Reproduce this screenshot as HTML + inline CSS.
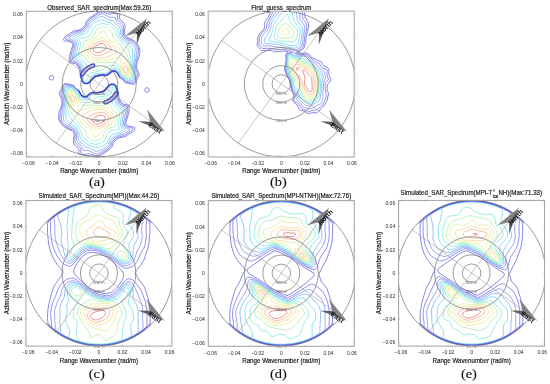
<!DOCTYPE html>
<html><head><meta charset="utf-8"><title>SAR spectra</title>
<style>html,body{margin:0;padding:0;background:#fff;width:550px;height:384px;overflow:hidden}svg{display:block}</style>
</head><body>
<svg width="550" height="384" viewBox="0 0 550 384" font-family="Liberation Sans, Arial, sans-serif">
<clipPath id="clipa"><rect x="26.25" y="11.25" width="146" height="145.7"/></clipPath>
<g clip-path="url(#clipa)">
<g fill="none" stroke-width="0.8" stroke-linejoin="round"><path d="M68.2,83.9 65.7,83.5 63.8,83.9 62.3,85.7 61.4,89.2 59.3,92.5 59.5,94.9 61.6,98.7 62,100.6 61.9,103.5 61.2,106.4 59.2,111.2 58.6,116.4 58.8,119.8 60.4,122.6 63.3,126.1 66.6,128.4 72,130.8 73.4,132.2 74,133.7 74.2,135.6 73.4,140.4 73.6,143.2 74.5,144.9 78.6,148.5 79.1,150.9 78.4,153.8 79.8,154 80.3,154.4 81.8,154.5 82.2,154.9 83.7,154.9 84.2,155.4 86.1,155.4 86.6,155.8 89.5,155.7 94.9,156.4 95.4,156.8 98.4,156.6 101.2,155.2 109.5,149.5 112.1,146.6 113,143.7 113.8,142.1 117.3,138.9 119.7,137.7 125,136.7 129.9,133.4 132.3,132.5 133.5,131.3 134.8,128.9 134.9,127.9 134.7,127.4 133.8,127 129.9,126.4 127.4,125.5 126.5,125 125.7,123.6 125.7,122.7 127.9,116 129.1,110.2 129.2,106.9 128.9,105.5 128,105 123.1,104.1 121.2,102.6 119,98.3 118.3,92.5 116.5,86.8 114.8,84.6 113.3,84 110.9,84.2 109.5,84.9 108,86.1 103.6,90.8 101.2,91.7 96.3,92.6 93.4,92.2 92,92.4 89.6,93.5 86.6,96.1 84.7,96.5 82.7,95.9 81.3,94.9 78.6,90.1 75.2,87.7 74,85.6ZM103.1,11 100.2,11.1 99.1,11.6 89,18.3 86.4,21.2 85.5,24.1 84.7,25.7 80.8,29.2 78.8,30.1 73.5,31.1 68.6,34.4 66.2,35.3 64.7,37 63.5,39.4 63.8,40.4 64.7,40.8 68.6,41.4 71.1,42.3 72,42.8 72.8,44.2 72.8,45.1 70.6,51.8 69.4,57.6 69.3,60.9 69.6,62.3 70.5,62.8 75.4,63.7 77.3,65.2 79.5,69.5 80.2,75.3 82,81 83.2,82.8 84.7,83.6 87.1,83.8 89,82.9 92,80.2 94,77.7 95.6,76.7 97.3,76.1 102.7,75.1 105.1,75.6 106.5,75.4 108.9,74.3 111.9,71.7 113.8,71.3 115.8,71.9 117.2,72.9 119.9,77.7 123.3,80.1 124.9,82.5 130.8,84 134.2,84.1 135.2,83.4 136.2,82.1 137.1,78.6 139.2,75.3 139,72.9 136.9,69.1 136.5,67.2 136.9,62.8 139.4,56.1 139.9,51.4 139.5,47.5 137.2,43.9 134.7,41.3 131.9,39.4 126.5,37 125.1,35.6 124.5,34.1 124.3,32.2 125.1,27.4 124.9,24.6 124,22.9 119.9,19.3 119.4,16.9 120.2,14 118.7,13.8 118.2,13.4 116.7,13.3 116.3,12.9 114.8,12.9 114.3,12.4 103.6,11.4Z" stroke="#6a6ae0"/><path d="M112.9,84.4 110.9,84.5 109.5,85.3 105.1,90.1 103.9,91.1 101.2,92 96.2,93 92.4,92.6 90,93.8 86.6,96.7 85.2,97 83.6,96.8 81.2,95.4 80.4,94.4 78.4,90.5 75,88.1 73.3,85.8 69.1,84.8 66.2,84.5 64.3,84.9 63.3,86.4 62.4,89.6 60.9,92.5 61.1,94.9 62.7,98.7 63,101.1 62.5,105 60.8,110.7 60.7,113.1 59.9,116.4 60,119.8 61.2,122.2 64.2,125.5 67.2,127.5 72.5,129.9 74.2,131.3 74.9,132.7 75.2,134.6 74.8,140.4 75.3,142.8 80.3,147.5 81,149.9 80.7,152.8 82.7,154.2 85.6,154.3 88.6,153.6 92,154.4 95.4,155.9 97.3,155.6 99.2,154.9 108.9,148.5 111.1,145.6 111.7,143.2 112.7,141.3 116.1,138.4 118.7,137 124.5,135.4 128.9,132.4 131.3,131.3 132.7,129.4 132.8,128.4 132.3,128 129.4,127.5 126.5,126.5 125.5,125.8 124.7,124.6 124.6,122.7 126.7,116 127.8,109.7 127.6,106.4 122.6,105 120.4,103 118.2,98.7 117.6,92 116.2,86.8 115.3,85.4 113.8,84.5ZM103.6,12.1 101.2,12.2 99.2,12.9 90.1,18.8 87.4,22.2 86.8,24.6 85.8,26.5 82.2,29.5 79.8,30.8 74,32.4 69.6,35.4 67.2,36.5 66.3,37.5 65.7,39.4 72,41.3 73.2,42.3 73.9,43.7 73.9,45.1 72.5,49.4 71.1,55.5 70.6,58.5 70.9,61.4 75.9,62.8 78.1,64.8 80.3,69.1 80.9,75.8 82.3,81 83.2,82.4 84.7,83.3 87.1,83.4 88.6,82.9 90.5,81.2 93.4,77.7 94.6,76.7 97.3,75.8 102.3,74.8 106.1,75.2 108.5,74 111.9,71.1 113.8,70.8 115.9,71.5 117.7,72.8 120.1,77.3 123.5,79.7 125.2,82 130.3,83.2 133.8,83.1 135.2,81.5 136.1,78.2 137.6,75.3 137.4,72.9 135.8,69.1 135.5,66.7 136,62.8 137.7,57.1 137.8,54.7 138.6,51.4 138.4,47.5 136.5,44.7 134.2,42.2 131.3,40.3 126,37.9 124.3,36.5 123.6,35.1 123.3,33.2 123.7,27.4 123.4,25.5 122.5,24.1 118.2,20.3 117.5,17.9 117.7,14.8 115.3,13.6 112.9,13.5 109.9,14.2 106.5,13.4Z" stroke="#7676e6"/><path d="M113.8,84.6 111.4,84.6 109.9,85.2 108.2,86.8 105.6,90.2 104.1,91.4 96.3,93.2 92.4,92.9 90.5,93.7 86.6,97.1 84.7,97.4 83.2,97.1 80.8,95.5 77.9,90.6 74.5,88.4 72.8,86.3 67.2,85.6 65.2,86.1 64.3,87.2 62.4,92.5 62.9,95.9 63.8,98.7 64,101.1 63.7,104.5 62.3,110.2 62.4,112.6 61.6,116 61.4,119.8 63.2,122.7 65.1,124.6 68.1,126.5 73,128.6 75.1,130.3 76.3,133.2 76.5,139.4 77,141.3 77.9,142.7 82.1,146.6 83.2,149.9 83.7,150.3 88.6,150.5 95.4,153.9 97.3,153.9 98.8,153.4 106.5,148.7 107.9,147.5 109.9,144.7 111.4,140.8 114.3,138.1 118.2,136 123.5,134.1 130,129.8 129.9,129.4 125,127.1 123.5,125.1 123.4,122.7 125.9,112.1 126.2,108.3 125.5,107.2 121.6,105.9 119.4,103.5 117.2,98.7 117.4,92.5 116.9,89.6 115.5,85.8ZM103.1,13.9 101.2,13.9 98.8,14.9 91.1,19.8 88.8,22.7 87.1,27 83.7,30 80.3,31.8 75.9,33.2 68.5,38 68.6,38.4 73.5,40.7 74.5,41.8 75.1,43.2 75.1,45.1 72.6,55.7 72.2,58.5 72.4,60 73.5,60.8 76.9,61.9 79.1,64.3 81.3,69.1 81.1,75.3 81.6,78.2 83,82 84.7,83.2 87.1,83.2 88.6,82.6 90.3,81 92.9,77.7 94.4,76.5 102.2,74.5 106.1,74.9 108,74.1 111.9,70.7 113.8,70.4 115.3,70.7 117.7,72.3 120.6,77.2 124,79.4 125.7,81.5 129.9,82.2 132.8,81.9 134.2,80.6 136.1,75.3 135.6,71.9 134.7,69.1 134.5,66.7 134.8,63.3 136.2,57.6 136.1,55.2 136.9,51.8 137.1,48 135.3,45.1 133.4,43.2 130.4,41.3 125.5,39.2 123.4,37.5 122.2,34.6 122,28.4 121.6,26.6 120.6,25.1 116.4,21.2 115.3,17.8 114.3,17.4 109.5,17.1Z" stroke="#8890ee"/><path d="M113.8,84.8 111.4,84.8 109.9,85.5 106.1,90.3 104.6,91.6 101.2,92.6 95.8,93.6 92.9,93.2 91.9,93.5 90,94.4 86.6,97.5 84.7,98.1 82.7,97.6 80.8,96.3 77.6,91.1 74,88.8 72,86.8 68.2,86.7 65.7,87.5 64.9,88.7 63.8,92 63.8,93.5 64.8,98.3 65.1,101.1 63.9,110.2 64.1,113.1 63.1,118.4 63.7,120.3 64.7,121.8 66.6,123.6 73.5,127.2 75.9,129.2 77.5,132.2 78.1,138 78.7,139.9 80.1,141.8 83.7,144.7 85.4,147.1 89.5,147.7 95.8,151.4 98.8,150.9 105.9,147.1 108.4,144.2 110.2,139.9 112.4,137.6 116.7,135.1 122.1,133 125.8,129.8 122.9,127 121.9,124.1 124.2,111.7 124.2,108.8 121.6,107.7 120.1,106.6 118.4,104.5 116.7,100.9 116.1,98.7 116.8,93 116.6,89.6 115.3,85.8ZM102.7,16.4 99.7,16.9 92.6,20.7 90.1,23.6 88.3,27.9 86.1,30.2 81.8,32.7 76.4,34.8 72.7,38 75.6,40.8 76.6,43.7 74.3,55.7 74.1,58.5 74.5,59.2 76.9,60.1 78.8,61.7 80.1,63.3 82.1,67.6 82.4,70 81.6,75.3 81.9,78.2 82.7,81 83.3,82 84.7,83 87.4,82.9 89,81.9 92.4,77.5 94,76.2 97.3,75.2 102.7,74.1 105.6,74.6 106.6,74.3 108,73.8 111.9,70.3 114.3,69.7 115.8,70.2 117.7,71.5 120.9,76.7 124.5,79 126,80.7 126.9,81.1 129.4,81.2 132.3,80.6 133.4,79.6 134.8,75.3 133.4,66.7 134.6,57.6 134.4,54.7 135.4,49.4 135,48 133.8,46.1 132.3,44.5 125,40.6 122.4,38.4 121,35.6 120.4,29.8 119.8,27.9 118.4,26 114.8,23.1 113.1,20.7 109,20.1Z" stroke="#80b4f4"/><path d="M113.8,85.2 111.9,85 109.9,86.3 108.6,91.6 108,92.5 106.5,93.6 104.6,94.2 101.7,94.6 94.9,94.4 92.3,93.9 90.3,94.9 86.6,99 85.2,99.7 83.7,99.6 81.8,98.5 79.8,96.5 78.3,93.5 76.9,91.6 73.5,89.4 71.6,87.6 69.1,87.6 66.7,88.5 65.7,89.6 64.9,92 66.1,101.1 65.7,110.2 66.2,113.1 65.8,117.9 66.6,119.8 68.2,121.8 74,125.3 77.2,128.4 79,131.8 80.3,138 81.7,139.9 85.6,142.7 87.6,144.7 90,145.3 95.8,147.7 98.3,147.5 102.2,146.3 104.6,145.1 106.8,142.8 108.5,139 111.2,135.6 113.3,134.3 119.2,132.2 121.1,131.1 122.5,129.8 122.4,128.9 120.6,126 120.2,123.6 121.9,114.5 122.2,110.7 122.1,110.2 119.7,108.6 117.6,106.4 115,101.1 114.7,99.2 116.2,93 116.2,90.1 115.5,86.8 114.8,85.8ZM102.7,20.1 100.2,20.3 96.3,21.5 93.9,22.7 91.7,25 90,28.8 87.3,32.2 85.2,33.5 79.3,35.6 77.4,36.7 76,38 76.1,38.9 77.9,41.8 78.3,44.2 76.6,53.3 76.3,57.1 76.4,57.6 78.8,59.2 80.9,61.4 84.2,68.1 84.1,70.5 82.7,73.3 82.2,75.3 82.2,77.7 83.1,81 84.7,82.5 87.1,82.6 88.6,81.5 91,76.5 92.9,75 96.3,73.9 100.7,73.2 103.1,73.2 105.2,73.9 106.3,73.9 108.3,72.9 112.3,68.6 113.8,68.1 115.3,68.3 117.2,69.7 118.7,71.4 120.2,74.3 121.6,76.2 125,78.4 126.8,80.1 128.9,80.2 131.2,79.6 132.5,78.6 133.7,75.3 132.4,67.2 132.8,57.6 132.3,54.7 132.7,49.9 132.3,48.7 130.4,46.1 124.5,42.5 121.3,39.4 119.7,36.5 118.4,30.3 117.2,28.4 112.9,25.1 110.9,23.1 108.5,22.5Z" stroke="#70d8f4"/><path d="M113.8,85.8 112.6,85.8 111.7,91.6 111.1,93 109.8,94.4 108,95.5 105.1,96.3 97.3,97 95.4,97.5 94,98.7 93.8,101.6 93.1,102.1 91.5,102.3 86.1,102.6 84.2,102.3 82.7,101.6 79.8,98.3 77.6,93.9 76.4,92.5 71.1,88.7 70.1,88.6 68.6,89 67.2,89.8 66.5,90.6 65.9,93 67.1,100.6 67.5,107.8 69.5,116.9 71.1,119.2 75,122.9 80.1,129.4 81.2,131.8 82.2,136.1 83.1,137.5 89.8,142.8 95.8,144.3 99.2,143.6 101.7,142.6 104.8,140.4 107.4,133.7 109,131.8 112.4,130.3 117.7,129.7 119.4,128.9 119.6,128.4 118.3,125.5 118,123.1 119.7,114.5 119.8,111.7 115.2,107.3 112.6,102.6 112.2,101.1 114.9,90.1 114.9,86.8ZM103.6,23.6 102.2,23.5 98.8,24.4 96.2,25.5 94.1,27 93.4,27.9 91,34.3 89.4,36 85.6,37.6 80.3,38.2 79.3,38.7 78.9,39.4 80.2,42.3 80.5,44.2 78.8,53.3 78.7,56.1 83.3,60.5 85.2,63.9 87.2,66.7 87.7,68.1 87.6,70 87.1,71.5 84.2,74.6 83.2,76.7 83.4,80.1 83.7,81.1 84.8,82 85.9,82 86.1,81.6 88.8,74.8 90,73.5 101.4,70.5 104.7,68.6 107.5,66.2 110.4,65.3 113.8,65.4 115.8,66.2 118.7,69.5 120.9,73.9 122.1,75.3 127.4,79.1 128.9,79.1 130.8,78.3 131.8,77.5 132.3,76.2 132.6,74.8 131.4,67.2 131,60 128.9,50.8 127.4,48.5 123.1,44.4 118.4,38.4 117.3,36 116.3,31.7 115.3,30.2 109,25.1Z" stroke="#84e8d8"/><path d="M70.6,90 69.6,89.9 68.2,90.7 67.3,91.6 66.9,93 68.9,105.4 70.5,110.7 72.6,115 75.4,118.5 79.8,125.1 85.7,130.8 86.6,135.6 91,140.1 92,140.6 94.9,141.1 97.8,140.4 100.7,139.1 102.5,137.5 104.4,132.2 105.8,130.3 110.9,127.6 114.8,126.4 115.1,123.1 116.9,116.4 117,113.1 112.9,110 110.4,105.9 108.5,104.5 107.5,104.4 100.7,105.6 92.4,105 84.7,105.5 82.7,105.1 81.3,103.5 76.4,93.9 74.5,92.2ZM108,98.6 106.5,98.4 102.2,99 100.7,99.4 100,100.2 101.2,101.3 104.1,101.4 107.2,100.2 108.1,99.2ZM105.1,26.9 103.6,26.7 101.2,27.2 96.8,29.3 95.5,31.3 94.1,35.6 92.7,37.5 87.6,40.2 83.7,41.4 83.4,44.7 81.6,51.4 81.5,54.7 85.6,57.8 88.1,61.9 90,63.1 91,63.2 97.3,62.2 104.1,63 113.3,62.3 115.8,62.7 117.2,64.3 121.4,72.9 122.6,74.4 124,75.6 127.9,77.8 129.4,77.7 130.8,76.7 131.6,74.8 129.7,62.8 127.8,56.6 125.9,52.8 123.1,49.3 119.2,43.3 117.2,41 112.8,37 112.2,33.2 111.2,31.3 107.2,27.4ZM97.3,67.1 95.4,66.9 93.4,67.4 92.2,68.6 92,69.5 92.4,70.1 93.9,70.4 95.8,70.2 97.7,69.5 98.4,69.1 98.7,68.1 98.3,67.5Z" stroke="#aeeeac"/><path d="M71.1,91.9 69.6,91.6 68.6,92 68.1,92.5 68,93.5 69.1,100 70.8,105.4 77.6,116 81.4,122.7 83.7,124.9 89,127.9 91.3,129.8 92.3,131.8 93.1,135.1 93.9,136.5 94.9,136.6 98.8,135.4 101.9,130.8 103.6,129 111.4,124.6 113.7,118.8 113.9,115 113.3,114 110.4,111.8 107.5,108 106.1,107.5 100.7,107.8 95.4,107.3 91.5,107.3 88.1,108.1 81.8,110.6 79.3,110.6 78.1,109.7 77.5,108.3 78.4,102.6 77.9,99.7 76.9,96.7 76,94.9 74.5,93.5ZM104.1,31.1 99.7,32.4 96.6,37 94.9,38.8 87.1,43.2 84.8,49 84.5,51.8 84.8,53.3 88.1,56 90.7,59.5 92.4,60.3 97.3,59.9 103.6,60.5 107,60.5 110.4,59.7 116.7,57.2 118.2,57 119.7,57.4 120.6,58.4 121,59.5 120.1,64.3 120.2,66.7 121,69.5 122.2,72.4 123.5,74 125,75 128.4,76.1 129.9,75.8 130.5,74.8 130.4,72.9 128.9,65.9 127.4,61.9 120.9,51.8 117.5,45.6 114.8,42.9 109.5,39.9 107.7,38.4 106.2,36 105.1,32Z" stroke="#e2f090"/><path d="M97.3,109.7 94.4,109.9 91.6,110.7 82.7,114.7 81.8,115.5 81.7,116 83.1,119.8 85.4,122.7 95.8,130.1 99.2,129 108.9,123.6 110.5,120.3 111.1,117.9 110.9,116 110.4,115.1 105.6,110.3 104.1,109.9ZM72.5,93.8 69.6,93.7 69.2,94.4 69.2,95.4 70,99.2 71.1,102 72.5,104.3 74,105.4 75,104.7 76.2,102.6 76.5,101.1 76.5,99.2 75.3,95.9 74,94.5ZM125,62.6 124,62.5 122.3,65.2 121.9,67.6 122.3,70 123.2,71.9 125,73.6 126.9,74.2 128.9,74.1 129.3,72.9 128.2,67.6 126.9,64.8ZM103.1,37.8 101.7,37.9 99.2,38.8 90.3,43.7 89.3,44.7 87.5,49 87.6,51.8 88.1,52.8 93.1,57.6 94.4,57.9 101.7,58.1 104.6,57.8 108,56.6 115.4,53.3 116.7,52.3 115.9,49 113.6,45.6 111.3,43.7 106.1,40.4Z" stroke="#f4da8a"/><path d="M103.6,112.4 98.8,112.4 96.3,112.9 87.2,117.4 86.9,118.4 87.4,119.8 88.6,121.7 90,123.1 95.4,126.9 97.3,126.8 100.2,125.8 106.5,122.7 107.2,121.7 108.2,119.3 108.4,117.4 108,116 105.6,113.7ZM71.6,95.4 70.6,95.9 71,98.7 72,101 73,102 73.5,102.1 74.7,100.2 74.6,97.8 73.5,96.1ZM126,66.2 125,65.7 124.5,66.2 123.8,67.6 123.8,69.5 124.3,71 125,71.7 126.5,72.4 127.4,72.3 128,71.5 127.8,70 126.9,67.6ZM102.7,40.8 100.7,41.1 98.3,42 92.4,44.9 91.3,46.1 90.2,49 90.3,51.4 91.5,52.8 94.4,55.2 96.8,55.5 101.5,55.2 110.5,50.9 111.6,49.9 111.1,48 109.5,45.6 106.6,43.2 103.6,41.1Z" stroke="#f4b08a"/><path d="M103.1,115.5 101.2,115.1 97.8,115.8 92.4,118.9 91.8,119.8 92,120.7 93.4,122.7 95.8,124.4 98.3,124 101.7,122.6 104.1,121.2 105.3,118.8 105.1,116.9ZM103.1,43.6 102.2,43.4 99.7,44 94.4,46.5 93.2,49 93.4,50.9 95.8,52.6 98.3,52.6 100.7,52 106,49 106.7,48 106.3,46.6 105.1,45.1Z" stroke="#ec7676"/></g>
<ellipse cx="99.25" cy="83.9" rx="73.98" ry="72.85" fill="none" stroke="#7a7a7a" stroke-width="0.75"/>
<ellipse cx="99.25" cy="83.9" rx="36.99" ry="36.42" fill="none" stroke="#7a7a7a" stroke-width="0.75"/>
<ellipse cx="99.25" cy="83.9" rx="18.49" ry="18.21" fill="none" stroke="#7a7a7a" stroke-width="0.75"/>
<ellipse cx="99.25" cy="83.9" rx="9.25" ry="9.11" fill="none" stroke="#7a7a7a" stroke-width="0.75"/>
<line x1="55.87" y1="143.61" x2="136.28" y2="32.93" stroke="#a0a0a0" stroke-width="0.6"/>
<line x1="39.54" y1="40.52" x2="150.22" y2="120.93" stroke="#a0a0a0" stroke-width="0.6"/>
<clipPath id="wclip"><ellipse cx="99.2" cy="83.9" rx="21.8" ry="21.5"/></clipPath><g clip-path="url(#wclip)"><g fill="none" stroke-width="1.3" stroke-linejoin="round"><path d="M113.8,84.4 111.4,84.2 109.5,85.1 106.7,87.7 104.8,90.1 103.4,91.1 101.2,91.8 95.8,92.9 93.4,92.4 92.2,92.5 90,93.5 86.6,96.4 85.2,96.8 83.7,96.6 81.3,95.1 78.4,90.1 75,87.8 73.5,85.6 68.6,84.3 65.7,84 64,84.4 62.8,85.9 62,89.2 60.1,92.5 60.2,94.9 62.1,98.7 62.5,101.1 62,105 59.9,111.2 59.2,116.4 59.3,119.8 60.9,122.6 63.8,125.9 66.7,127.9 72.5,130.6 73.8,131.8 74.4,133.2 74.7,135.1 74,140.8 74.2,142.8 75,144.2 79.4,148 80,150.9 79.2,153.8 80.3,154.3 81.8,154.3 82.2,154.8 83.7,154.8 84.2,155.2 86.6,155.3 88.1,154.8 91,155.2 94.9,156.2 95.4,156.7 97.3,156.4 99.2,155.6 109.3,149 111.6,146.1 112.3,143.7 113.2,141.8 116.7,138.7 119.2,137.4 123.1,136.8 125,136 129.4,133 132.1,131.8 133.9,128.9 134.1,128.4 133.8,127.7 127.1,126 125.4,124.6 125.2,122.7 127.4,116 128.5,110.2 128.4,106 127.5,105.4 123.1,104.6 121,103 118.7,98.6 118,92.5 116.3,86.8 115.3,85.3ZM103.1,11.1 100.7,11.5 97.8,12.9 89.5,18.5 86.9,21.7 86.2,24.1 85.3,26 81.4,29.4 79.3,30.4 75.4,31 73.5,31.7 69.1,34.8 66.7,35.8 65.6,37 64.6,38.9 64.5,39.9 71.6,41.8 72.8,42.7 73.3,44.2 70.4,55.2 69.9,58.1 70.1,61.9 71,62.4 75.4,63.2 77.5,64.8 79.8,69.2 80.5,75.3 82.2,81 83.2,82.5 84.7,83.4 87.1,83.6 89,82.7 91.8,80.1 93.7,77.7 95.1,76.7 97.3,76 102.7,74.9 105.1,75.4 106.3,75.3 108.5,74.3 111.9,71.4 113.8,71 115.8,71.7 117.5,72.9 120.1,77.7 123.5,80 125,82.2 130.8,83.7 134.2,83.6 135.7,81.9 136.5,78.6 138.4,75.3 138.3,72.9 136.4,69.1 136,67.2 136.5,62.8 138.6,56.6 139.3,51.4 139,47.5 137.6,45.2 134.7,41.9 131.8,39.9 126,37.2 124.5,35.7 123.8,32.7 124.5,27 124.3,25 123.5,23.6 119.1,19.8 118.5,16.9 119.3,14 118.2,13.5 116.7,13.5 116.3,13 114.8,13 114.3,12.6 111.9,12.5 110.4,13 107.5,12.6 103.6,11.6Z" stroke="#3c3cd0"/></g></g><path d="M93.2,65.5 L92.5,65.8 L91.8,66.0 L91.1,66.3 L90.5,66.6 L89.8,67.0 L89.2,67.3 L88.5,67.7 L87.9,68.1 L87.3,68.6 L86.8,69.0 L86.2,69.5 L85.7,70.0 L85.1,70.5 L84.6,71.0 L84.2,71.6 L83.7,72.2 L83.3,72.7 L82.8,73.3 L82.4,74.0" fill="none" stroke="#4040cc" stroke-width="4.4" stroke-linecap="round"/><path d="M93.2,65.5 L92.5,65.8 L91.8,66.0 L91.1,66.3 L90.5,66.6 L89.8,67.0 L89.2,67.3 L88.5,67.7 L87.9,68.1 L87.3,68.6 L86.8,69.0 L86.2,69.5 L85.7,70.0 L85.1,70.5 L84.6,71.0 L84.2,71.6 L83.7,72.2 L83.3,72.7 L82.8,73.3 L82.4,74.0" fill="none" stroke="#9a9aa6" stroke-width="2.4" stroke-linecap="round"/><path d="M93.2,65.5 L92.5,65.8 L91.8,66.0 L91.1,66.3 L90.5,66.6 L89.8,67.0 L89.2,67.3 L88.5,67.7 L87.9,68.1 L87.3,68.6 L86.8,69.0 L86.2,69.5 L85.7,70.0 L85.1,70.5 L84.6,71.0 L84.2,71.6 L83.7,72.2 L83.3,72.7 L82.8,73.3 L82.4,74.0" fill="none" stroke="#e4e4ea" stroke-width="0.8" stroke-linecap="round"/><path d="M105.3,102.3 L106.0,102.0 L106.7,101.8 L107.4,101.5 L108.0,101.2 L108.7,100.8 L109.3,100.5 L110.0,100.1 L110.6,99.7 L111.2,99.2 L111.7,98.8 L112.3,98.3 L112.8,97.8 L113.4,97.3 L113.9,96.8 L114.3,96.2 L114.8,95.6 L115.2,95.1 L115.7,94.5 L116.1,93.8" fill="none" stroke="#4040cc" stroke-width="4.4" stroke-linecap="round"/><path d="M105.3,102.3 L106.0,102.0 L106.7,101.8 L107.4,101.5 L108.0,101.2 L108.7,100.8 L109.3,100.5 L110.0,100.1 L110.6,99.7 L111.2,99.2 L111.7,98.8 L112.3,98.3 L112.8,97.8 L113.4,97.3 L113.9,96.8 L114.3,96.2 L114.8,95.6 L115.2,95.1 L115.7,94.5 L116.1,93.8" fill="none" stroke="#9a9aa6" stroke-width="2.4" stroke-linecap="round"/><path d="M105.3,102.3 L106.0,102.0 L106.7,101.8 L107.4,101.5 L108.0,101.2 L108.7,100.8 L109.3,100.5 L110.0,100.1 L110.6,99.7 L111.2,99.2 L111.7,98.8 L112.3,98.3 L112.8,97.8 L113.4,97.3 L113.9,96.8 L114.3,96.2 L114.8,95.6 L115.2,95.1 L115.7,94.5 L116.1,93.8" fill="none" stroke="#e4e4ea" stroke-width="0.8" stroke-linecap="round"/><circle cx="51.5" cy="77.8" r="2.3" fill="none" stroke="#6b6be0" stroke-width="0.8"/><circle cx="147.0" cy="90.0" r="2.3" fill="none" stroke="#6b6be0" stroke-width="0.8"/>
</g>
<text x="99.25" y="158.35" font-size="4.1" fill="#707070" text-anchor="middle">100 m</text>
<text x="99.25" y="121.92" font-size="4.1" fill="#707070" text-anchor="middle">200 m</text>
<text x="99.25" y="103.71" font-size="4.1" fill="#707070" text-anchor="middle">400 m</text>
<text x="99.25" y="94.61" font-size="4.1" fill="#707070" text-anchor="middle">800 m</text>
<path d="M146.86,18.37L124.91,36.16L137.04,32.74Z" fill="#828282"/>
<path d="M146.86,18.37L137.04,32.74L136.72,44.75Z" fill="#5e5e5e"/>
<text x="143.2" y="27.83" font-size="6.8" font-weight="bold" fill="#111" text-anchor="middle" dominant-baseline="central" transform="rotate(-47 143.2 27.83)">North</text>
<path d="M164.78,131.51L146.99,109.56L150.41,121.69Z" fill="#828282"/>
<path d="M164.78,131.51L150.41,121.69L138.4,121.37Z" fill="#5e5e5e"/>
<text x="155.32" y="127.85" font-size="6.8" font-weight="bold" fill="#111" text-anchor="middle" dominant-baseline="central" transform="rotate(36 155.32 127.85)">East</text>
<rect x="26.25" y="11.25" width="146" height="145.7" fill="none" stroke="#9a9a9a" stroke-width="0.9"/>
<text x="28.57" y="165.15" font-size="5" fill="#1c1c1c" text-anchor="middle">−0.06</text>
<text x="22.85" y="155.3" font-size="5" fill="#1c1c1c" text-anchor="end">−0.06</text>
<text x="52.13" y="165.15" font-size="5" fill="#1c1c1c" text-anchor="middle">−0.04</text>
<text x="22.85" y="132.1" font-size="5" fill="#1c1c1c" text-anchor="end">−0.04</text>
<text x="75.69" y="165.15" font-size="5" fill="#1c1c1c" text-anchor="middle">−0.02</text>
<text x="22.85" y="108.9" font-size="5" fill="#1c1c1c" text-anchor="end">−0.02</text>
<text x="99.25" y="165.15" font-size="5" fill="#1c1c1c" text-anchor="middle">0</text>
<text x="22.85" y="85.7" font-size="5" fill="#1c1c1c" text-anchor="end">0</text>
<text x="122.81" y="165.15" font-size="5" fill="#1c1c1c" text-anchor="middle">0.02</text>
<text x="22.85" y="62.5" font-size="5" fill="#1c1c1c" text-anchor="end">0.02</text>
<text x="146.37" y="165.15" font-size="5" fill="#1c1c1c" text-anchor="middle">0.04</text>
<text x="22.85" y="39.3" font-size="5" fill="#1c1c1c" text-anchor="end">0.04</text>
<text x="169.93" y="165.15" font-size="5" fill="#1c1c1c" text-anchor="middle">0.06</text>
<text x="22.85" y="16.1" font-size="5" fill="#1c1c1c" text-anchor="end">0.06</text>
<path d="M28.57,156.95v-1.3M28.57,11.25v1.3M26.25,153.5h1.3M172.25,153.5h-1.3M52.13,156.95v-1.3M52.13,11.25v1.3M26.25,130.3h1.3M172.25,130.3h-1.3M75.69,156.95v-1.3M75.69,11.25v1.3M26.25,107.1h1.3M172.25,107.1h-1.3M99.25,156.95v-1.3M99.25,11.25v1.3M26.25,83.9h1.3M172.25,83.9h-1.3M122.81,156.95v-1.3M122.81,11.25v1.3M26.25,60.7h1.3M172.25,60.7h-1.3M146.37,156.95v-1.3M146.37,11.25v1.3M26.25,37.5h1.3M172.25,37.5h-1.3M169.93,156.95v-1.3M169.93,11.25v1.3M26.25,14.3h1.3M172.25,14.3h-1.3" stroke="#9a9a9a" stroke-width="0.6" fill="none"/>
<text transform="translate(99.25 173.35) scale(1.0 1.15)" font-size="6.2" fill="#1c1c1c" text-anchor="middle" stroke="#1c1c1c" stroke-width="0.18">Range Wavenumber (rad/m)</text>
<text transform="translate(8.95 83.9) rotate(-90) scale(1.0 1.15)" font-size="6.2" fill="#1c1c1c" text-anchor="middle" stroke="#1c1c1c" stroke-width="0.18">Azimuth Wavenumber (rad/m)</text>
<text transform="translate(99.25 10.15) scale(1.0 1.15)" font-size="6.15" fill="#1c1c1c" text-anchor="middle" stroke="#1c1c1c" stroke-width="0.18">Observed_SAR_spectrum(Max:59.26)</text>
<text transform="translate(96.9 186.2) scale(1.07 1.0)" font-size="13.5" fill="#111" text-anchor="middle" font-family="Liberation Serif, serif" stroke="#111" stroke-width="0.12">(a)</text>
<clipPath id="clipb"><rect x="208.3" y="11.25" width="146" height="145.7"/></clipPath>
<g clip-path="url(#clipb)">
<g fill="none" stroke-width="0.8" stroke-linejoin="round"><path d="M272.9,7.3 272.7,9.3 271.1,11.2 268.3,16.9 264.6,22.7 264.7,25.5 264.1,28.9 259.6,33.7 258.1,36.5 257.7,38 257.6,41.8 256.9,45.1 258.5,47.3 261.9,50.6 271.6,50.6 276.4,51.8 283.7,51 287.6,51.8 288.1,52.3 285.9,54.2 286.1,60 285.7,64.2 285,66.2 284.5,69.5 286.7,75.3 289.1,79.2 291.3,89.6 293.3,93.9 293.7,95.9 292.9,99.7 293,101 293.6,102.1 297.2,105 298.2,106.9 298.8,109.3 299.8,110.2 302.2,110.4 304.1,111.1 308,113.5 313.9,112.5 316.3,113 318.7,111.5 321.6,108 324,105.9 327,100.6 328.6,93.9 327.2,89.6 327.2,85.3 327.9,83.9 330.3,81.5 330.8,79.6 330.4,77.7 328.7,74.3 329,70.5 328.5,68.6 327,67.3 323.5,65.7 321.3,61.9 312.4,57.8 310.5,56.1 309,54.2 307.1,53.2 304.1,53 299.8,53.9 297.8,53.3 297.8,52.3 303.1,49 304.2,47.5 305.7,42.7 306.3,35.1 307.7,31.3 308.7,26 308.4,23.6 307.8,21.7 305,16.9 304.2,12.1 303.8,7.3" stroke="#6a6ae0"/><path d="M275.2,7.3 275.2,8.8 274.7,10.2 273,12.2 271.1,15.4 267.1,23.1 266.6,27.4 266,28.9 261.8,33.2 260,36 259.3,38 258.9,44.7 260.4,46.6 262.8,48.5 267.7,48.3 272.6,48.6 276,49.6 283.2,49.4 291.7,51.4 292.3,51.8 291.5,52.3 288.6,52.9 286.3,54.2 286.1,56.6 286.4,60 285.9,64.3 285.2,67.2 285.1,70 287.1,75.3 289.8,79.6 292,90.1 295.3,95.9 294.9,97.8 293.8,99.7 293.9,100.7 294.8,101.6 297.3,102.8 298.8,103.9 301.2,108.1 308,111.3 309,111.4 313.4,110.4 315.3,110.3 317.3,109.6 322.9,104.5 325.4,99.2 326.4,95.9 326.2,93.5 325.3,90.1 325.1,83.9 325.8,82.5 327.9,80.6 328.4,79.1 327,74.8 327.2,70.5 326.5,69.2 322.1,67.8 319.7,64 315.8,62 306.7,54.2 303.7,53.9 299.3,54.9 297.8,54.5 296.8,53.8 296.6,51.8 296.8,51.4 300.3,49.4 302.9,47.1 304.2,42.7 304.8,35.6 306.2,31.3 306.8,28.4 306.9,26 306.5,24.1 305.4,22.2 303.1,19.3 302.4,17.9 302.3,10.2 301.8,7.3" stroke="#7676e6"/><path d="M294.9,52.1 293.9,52.2 292,53.1 288.6,53.5 287.1,54 286.6,54.7 286.7,60 285.7,66.7 285.7,69.5 287,73.9 287.6,75.3 290.4,79.6 290.8,82.9 292.5,89.4 293.4,91.1 295.2,93 296.8,95.4 297.1,97.3 296.8,99.2 297.2,100.2 300.7,103 302.7,106.4 304.2,107.3 309,108.9 313.4,108 317.1,105.4 320.7,103.8 321.4,102.6 322.8,98.7 323.1,96.8 322.7,93.5 323.5,88.7 323.3,83.9 325.5,77.7 324.4,71.5 320.7,69.2 318.1,66.2 314.5,63.3 312.1,60.5 306.5,55.7 303.7,54.9 299.8,56 298.3,55.9 297.3,55.5 295.8,54.2 295.5,53.8 295.7,52.8ZM277.7,7.3 277.6,9.3 276.9,10.9 272.6,16.7 270.5,20.3 269.1,24.1 268.8,27.4 268.2,29 267.2,30.5 263.6,34.1 261.9,37 261.3,38.9 261.1,43.7 261.9,44.7 263.8,46 268.2,45.8 274,46.2 276.4,46.9 283.2,47.7 286.6,48.8 294.9,50.3 298.3,48.8 300.8,47.1 301.6,46.1 302.7,42 303.3,35.6 304.9,29.4 304.8,27 304.2,25 300.7,20.6 299.8,18.4 300,10.2 299.3,7.3" stroke="#8890ee"/><path d="M291.5,54.2 289.1,54 287.1,54.8 286.9,56.6 287,60 286.2,66.7 286.5,70 287.6,73.9 288.2,75.3 290.6,78.2 291.2,79.6 291.4,82.9 293,88.1 294.4,90.5 296.5,92.5 297.9,94.4 299.4,99.2 304.6,104.7 306.1,105.4 309,105.8 312.4,105.2 315.8,102.5 318.7,101.3 320.1,99.2 320.7,93.5 321.9,89.2 321.8,83.4 323.2,77.7 323.2,76.2 322.4,73.9 321.6,72.4 313.9,64.7 310.9,61.3 305.6,56.8 303.2,56.2 300.3,57.2 298.8,57.2 296.8,56.4 294.9,55ZM280.3,7.3 280,9.7 278.9,12.1 274,18.3 272.3,21.2 271,24.6 270.9,27.4 270.4,29.4 265.3,37.5 264.3,40 264.3,42.7 265.3,43.4 274.5,44 283.7,45.9 287.1,47.1 294.4,48.4 297.8,46.9 299.6,45.6 300.2,44.7 301,41.3 301.7,35.6 302.8,30.8 302.2,27 298.3,21.7 297.1,19.3 296.8,16 297,10.7 296.3,7.3" stroke="#80b4f4"/><path d="M292,55.2 289.1,54.9 288.1,55.1 287.6,55.7 286.8,66.2 288.6,74.4 292.1,79.1 292.2,82.5 293,85.2 294.4,88.2 298.3,92.5 300.8,98.3 302.2,99.9 306.1,102.9 309.5,103.5 311.4,103.2 316.8,99.7 317.8,98.7 318.5,97.3 320.5,89.2 320.4,83.4 321.4,77.2 320.8,74.3 319.6,72.4 310.9,63.2 309,61.5 305.9,60.5 303.3,58.5 298.8,58.3ZM283.3,7.3 283,10.2 281.9,12.6 275,21.7 273.5,24.6 273.2,28.4 272.6,31.1 268.8,40.4 269.1,40.8 270.1,41.2 275,41.8 284.2,43.8 287.6,45 293.9,46.1 297.3,44.3 298.3,43.2 300.7,30.8 299.6,27.9 295,22.7 293.6,20.3 292.6,15 292.6,7.3" stroke="#70d8f4"/><path d="M291.5,56.1 289.6,55.9 288.6,56.3 287.5,62.4 287.6,66.2 289.6,74.2 292.9,78.6 293.3,82.9 294,84.9 295.4,86.9 299.3,90.9 302.7,98.2 304.6,100 306.6,101.2 308.5,101.7 310.5,101.7 315.8,98.2 316.9,96.8 317.7,94.8 319.3,88.7 319.1,83.4 319.8,77.2 319.2,74.3 317.1,71.5 309.5,63.6 308,62.9 305.1,62.4 301.8,60.5ZM287.6,14.1 287.1,14.2 276.6,25.5 273.7,38.4 277.4,39.9 280.3,40.7 293,42.2 294.4,41.7 295.3,40.8 297.6,34.1 297.9,30.8 296.7,28.9 292.3,24.6 290.5,22.2 289.4,19.8Z" stroke="#84e8d8"/><path d="M292,57.6 290.5,57.3 289.8,57.6 288.4,62.8 288.6,66.2 290.6,73.9 293.8,78.2 294.6,82.5 295.2,83.9 298.8,86.8 300.3,88.7 302.6,94.9 304,97.3 305.6,98.7 307.5,99.8 309,100.1 310.5,99.9 315.3,96.6 316.6,94.4 317.5,91.6 318.1,88.7 317.9,83.4 318.4,77.7 317.7,74.3 313.4,69 309,64.9 307.5,64.2 304.6,63.7 299.8,60.8ZM286.6,23.5 285.7,23.5 284.2,24.2 281.4,26 280.3,27.1 278,32.7 277.3,36 277.8,37 279.8,37.8 282.3,38.2 291,37.8 292,37.2 293.1,35.6 294.2,33.2 294,30.8 292.9,29.4Z" stroke="#aeeeac"/><path d="M294.4,59.9 292.5,59.6 292,59.8 289.9,62.8 290,66.2 291.5,73 292.2,74.3 294.7,77.7 296.4,82.2 300.3,85.3 302.8,90.1 303.9,93.5 305.1,95.7 307.5,97.8 309.1,98.3 310.5,98.1 312.9,96.7 314.5,95.4 315.8,93.5 316.4,91.6 316.8,88.7 316.7,83.4 317.1,78.6 316.5,74.8 315.3,72.9 312.9,70 308.5,66.3 304.6,65 297.5,60.9ZM286.6,28.6 286.2,28.4 285.2,28.7 283.2,30.4 281.7,32.7 281.5,33.7 281.8,34.1 283.2,34.4 288.1,34.2 289,33.7 289.2,32.2 288.8,30.8Z" stroke="#e2f090"/><path d="M296.4,61.8 294.5,61.9 292.6,63.3 292,64.3 291.7,67.2 292,70 292.9,72.9 296.4,77.7 297.8,80.8 301.3,83.9 306.6,94.3 308.5,95.9 310,96.3 310.9,96.2 313.9,94 315.2,91.1 315.7,79.6 315.1,75.3 312.4,71.4 308,67.8 303.7,66.2 300.2,63.8Z" stroke="#f4da8a"/><path d="M297.8,64.2 296.4,64 293.9,66.7 293.6,69.1 294.4,72.1 295.4,73.8 296.4,74.8 299.9,76.7 300.6,79.6 302.2,82 303.5,85.8 304.6,87.9 308,92.9 309.5,94 310.9,94.2 312.9,92.7 313.8,90.6 314.1,79.6 313.6,76.2 311.4,73.2 307.1,69.1 302.7,67.7 299.6,65.2Z" stroke="#f4b08a"/><path d="M304.6,70.4 302.7,70.4 302.5,71 304.8,76.2 304.9,78.6 304.5,82 304.8,84.9 306.1,87.1 308.5,90.3 310,91.6 310.9,91.8 311.9,90.6 312.2,89.2 311.8,77.7 305.8,71ZM298.8,67.5 297.3,67.5 296.5,68.1 296.4,69.1 296.8,69.9 297.8,70 299.3,68.6 299.4,68.1Z" stroke="#ec7676"/></g>
<ellipse cx="281.3" cy="83.9" rx="73.98" ry="72.85" fill="none" stroke="#7a7a7a" stroke-width="0.75"/>
<ellipse cx="281.3" cy="83.9" rx="36.99" ry="36.42" fill="none" stroke="#7a7a7a" stroke-width="0.75"/>
<ellipse cx="281.3" cy="83.9" rx="18.49" ry="18.21" fill="none" stroke="#7a7a7a" stroke-width="0.75"/>
<ellipse cx="281.3" cy="83.9" rx="9.25" ry="9.11" fill="none" stroke="#7a7a7a" stroke-width="0.75"/>
<line x1="237.92" y1="143.61" x2="318.33" y2="32.93" stroke="#a0a0a0" stroke-width="0.6"/>
<line x1="221.59" y1="40.52" x2="332.27" y2="120.93" stroke="#a0a0a0" stroke-width="0.6"/>

</g>
<text x="281.3" y="158.35" font-size="4.1" fill="#707070" text-anchor="middle">100 m</text>
<text x="281.3" y="121.92" font-size="4.1" fill="#707070" text-anchor="middle">200 m</text>
<text x="281.3" y="103.71" font-size="4.1" fill="#707070" text-anchor="middle">400 m</text>
<text x="281.3" y="94.61" font-size="4.1" fill="#707070" text-anchor="middle">800 m</text>
<path d="M328.91,18.37L306.96,36.16L319.09,32.74Z" fill="#828282"/>
<path d="M328.91,18.37L319.09,32.74L318.77,44.75Z" fill="#5e5e5e"/>
<text x="325.25" y="27.83" font-size="6.8" font-weight="bold" fill="#111" text-anchor="middle" dominant-baseline="central" transform="rotate(-47 325.25 27.83)">North</text>
<path d="M346.83,131.51L329.04,109.56L332.46,121.69Z" fill="#828282"/>
<path d="M346.83,131.51L332.46,121.69L320.45,121.37Z" fill="#5e5e5e"/>
<text x="337.37" y="127.85" font-size="6.8" font-weight="bold" fill="#111" text-anchor="middle" dominant-baseline="central" transform="rotate(36 337.37 127.85)">East</text>
<rect x="208.3" y="11.25" width="146" height="145.7" fill="none" stroke="#c4c4c4" stroke-width="1.6"/>
<text x="210.62" y="165.15" font-size="5" fill="#1c1c1c" text-anchor="middle">−0.06</text>
<text x="204.9" y="155.3" font-size="5" fill="#1c1c1c" text-anchor="end">−0.06</text>
<text x="234.18" y="165.15" font-size="5" fill="#1c1c1c" text-anchor="middle">−0.04</text>
<text x="204.9" y="132.1" font-size="5" fill="#1c1c1c" text-anchor="end">−0.04</text>
<text x="257.74" y="165.15" font-size="5" fill="#1c1c1c" text-anchor="middle">−0.02</text>
<text x="204.9" y="108.9" font-size="5" fill="#1c1c1c" text-anchor="end">−0.02</text>
<text x="281.3" y="165.15" font-size="5" fill="#1c1c1c" text-anchor="middle">0</text>
<text x="204.9" y="85.7" font-size="5" fill="#1c1c1c" text-anchor="end">0</text>
<text x="304.86" y="165.15" font-size="5" fill="#1c1c1c" text-anchor="middle">0.02</text>
<text x="204.9" y="62.5" font-size="5" fill="#1c1c1c" text-anchor="end">0.02</text>
<text x="328.42" y="165.15" font-size="5" fill="#1c1c1c" text-anchor="middle">0.04</text>
<text x="204.9" y="39.3" font-size="5" fill="#1c1c1c" text-anchor="end">0.04</text>
<text x="351.98" y="165.15" font-size="5" fill="#1c1c1c" text-anchor="middle">0.06</text>
<text x="204.9" y="16.1" font-size="5" fill="#1c1c1c" text-anchor="end">0.06</text>
<path d="M210.62,156.95v-1.3M210.62,11.25v1.3M208.3,153.5h1.3M354.3,153.5h-1.3M234.18,156.95v-1.3M234.18,11.25v1.3M208.3,130.3h1.3M354.3,130.3h-1.3M257.74,156.95v-1.3M257.74,11.25v1.3M208.3,107.1h1.3M354.3,107.1h-1.3M281.3,156.95v-1.3M281.3,11.25v1.3M208.3,83.9h1.3M354.3,83.9h-1.3M304.86,156.95v-1.3M304.86,11.25v1.3M208.3,60.7h1.3M354.3,60.7h-1.3M328.42,156.95v-1.3M328.42,11.25v1.3M208.3,37.5h1.3M354.3,37.5h-1.3M351.98,156.95v-1.3M351.98,11.25v1.3M208.3,14.3h1.3M354.3,14.3h-1.3" stroke="#c4c4c4" stroke-width="0.6" fill="none"/>
<text transform="translate(281.3 173.35) scale(1.0 1.15)" font-size="6.2" fill="#1c1c1c" text-anchor="middle" stroke="#1c1c1c" stroke-width="0.18">Range Wavenumber (rad/m)</text>
<text transform="translate(191 83.9) rotate(-90) scale(1.0 1.15)" font-size="6.2" fill="#1c1c1c" text-anchor="middle" stroke="#1c1c1c" stroke-width="0.18">Azimuth Wavenumber (rad/m)</text>
<text transform="translate(281.3 10.15) scale(1.0 1.15)" font-size="6.15" fill="#1c1c1c" text-anchor="middle" stroke="#1c1c1c" stroke-width="0.18">First_guess_spectrum</text>
<text transform="translate(278.4 186.2) scale(1.07 1.0)" font-size="13.5" fill="#111" text-anchor="middle" font-family="Liberation Serif, serif" stroke="#111" stroke-width="0.12">(b)</text>
<clipPath id="clipc"><rect x="25.9" y="200.4" width="146" height="145.7"/></clipPath>
<g clip-path="url(#clipc)">
<g fill="none" stroke-width="0.8" stroke-linejoin="round"><path d="M105.7,200.8 97.4,200.5 88.7,201.2 79.5,203 72.2,205.4 64.4,209.1 56.8,213.7 50.6,219 48.6,221.4 47.6,223.3 47.5,232.4 48.4,241.9 48.9,245.3 50.8,252.5 52.3,256.3 55.2,261.6 56.8,264 62.4,270.2 63.1,272.6 62.2,275 56.6,282.4 54,286.4 51.8,292.7 48.8,304.2 47.8,310.4 47.5,318.5 48,323.3 50.8,327.1 55,330.9 60.5,334.8 66.5,338.1 72.2,340.6 79.5,343 85.8,344.5 93.1,345.4 101.3,345.6 109.1,344.9 118.3,343 125.6,340.6 133.2,337.2 140.9,332.4 147.1,327.1 149.1,324.7 150.1,322.8 150.1,311.3 148.8,301.8 148,298.3 145.6,290.3 144.1,286.6 142.8,284.5 139.7,280.9 136,275 135.3,273.1 136.1,270.7 140.7,265.4 143.7,260.6 147.5,249.6 148.7,244.8 149.3,239.6 149.9,231.9 150,222.8 147,219 142.7,215.2 137.8,211.6 131.3,208 125.6,205.5 118.3,203.1 112,201.6ZM94.8,252.5 98.6,253.4 102.2,254.9 106.1,256.8 109,258.7 113.7,262.5 118.3,266.8 121.9,270.7 123.3,273.1 123.6,275.4 123.2,277.8 121.8,280.7 119.3,284.7 116.9,287.8 114.4,290.1 111.5,292.1 109.1,293.1 105.7,293.7 101.8,293.2 96.6,291.7 92.5,289.8 88.1,286.9 83,282.6 75.5,275.4 73.9,273.1 73.8,270.2 75.2,266.4 79.5,259.8 82.4,256.3 84.9,254.4 87.9,253 91.6,252.3Z" stroke="#6a6ae0"/><path d="M73.1,278.2 70.7,278.2 66.8,279.4 62.9,282.1 60.2,285 57.9,289.3 55.9,295.1 52.9,302.2 51.3,307.6 50.6,314.2 51.5,322.8 51.4,326.2 52.4,327.6 54.9,330 60.6,334.3 65.5,337.2 70.7,339.7 76.5,341.8 82.4,343.4 88.2,344.6 93.6,345.1 99.9,345.3 105.7,345 111.5,344.2 117.9,342.8 123.7,341 129,338.8 134.1,336.2 139.7,332.6 143.5,329.5 146.7,326.2 146.9,325.7 147,313.1 146.6,308.5 145.3,301.3 142.1,292.7 140.7,289.8 134.9,282.1 132.4,279.9 129.5,278.7 127.1,279 124.7,281.1 118.8,288.7 114.9,292.5 110.6,295.1 106.2,295.8 99.4,294.5 92.2,291.7 87.1,288.4 77.5,280.3 75.1,278.9ZM101.3,200.8 94,200.9 86.8,201.8 79.5,203.4 72.7,205.6 66.4,208.5 59,212.8 54.1,216.6 50.6,220.4 50.6,232.4 52.4,245.3 55.1,252 56.8,255.3 61.6,262 64.4,264.4 68.8,266.2 70.2,266.2 71.2,265.8 74.1,263.2 79.9,255.9 82.5,253.4 86.5,251 90.6,250.2 93.6,250.3 97.4,251.2 106.1,254.9 110.6,257.7 120.8,266.1 124.7,268.2 128.1,268.1 131.9,266.7 135,264.4 137.2,261.6 140.2,254.4 143.9,248.2 145.2,244.3 146.4,236.2 146.1,227.6 146.5,219.9 143.4,216.6 138.7,212.8 132.9,209.3 127.1,206.4 120.8,204.1 114.4,202.4 107.6,201.3Z" stroke="#7676e6"/><path d="M73.6,280.7 70.7,281 67.8,282.2 65.4,284.1 63.4,286.4 62.1,289.3 60.4,296 57.3,302.2 54.7,309.4 54.4,313.2 55.4,329.5 60,333.3 63.9,335.8 69.3,338.6 74.6,340.8 79.9,342.5 90.6,344.6 102.3,345 107.6,344.5 113.5,343.5 119.3,342.1 124.7,340.3 129.5,338.2 134.1,335.7 139.2,332.4 142.7,329.5 142.9,329 143.1,324.7 142.6,319.5 142.7,309.4 142.1,305.7 140.8,301.3 135,287.4 133.3,284.5 131.5,282.7 130,281.9 128.5,281.7 126.1,282.4 123.7,284.6 118.3,291.4 114.9,294.5 111,296.6 108.6,297.1 106.2,297.2 98.9,295.7 92.2,293.1 87,289.8 78,282.4 75.6,281.1ZM104.2,201.2 97.4,201.1 90.2,201.6 82.9,202.9 76.1,204.7 69.7,207.2 62.5,211.1 57.7,214.2 54,217.5 53.8,218 54.6,223.3 55,237.2 55.4,239.6 57.2,245.3 59.9,252.5 63.7,259.7 64.9,261.2 66.3,262.4 69.3,263.4 71.7,262.8 74.1,260.8 79.5,254.4 82.5,251.5 86.3,249.4 90.6,248.7 94.3,249.1 98.2,250.1 106.7,253.8 111,256.6 119.8,263.7 123.2,265.5 125.6,265.8 129,265 131.7,263.5 133.5,261.6 134.6,259.2 136.8,251.6 140.7,244.3 141.9,240 142.2,236.2 141.6,230 142.2,222.3 141.8,216.1 139.1,213.7 135.3,211.2 130.5,208.4 125.6,206.2 114.9,202.9Z" stroke="#8890ee"/><path d="M75.1,282.5 72.7,282.5 70.2,283.4 67.9,285 66.3,286.9 65,290.3 64.4,296.5 61.8,301.8 60.4,305.6 59.7,310.4 60,316.1 59.5,321.4 60.3,326.6 60.6,332.9 61.5,333.8 70.2,338.7 79.9,342.2 89.7,344.2 100.4,344.8 110.1,343.9 120.8,341.3 129.5,337.8 137.7,332.9 138,332.4 138.3,330 138,325.7 138.3,318.5 138,309.9 136.6,304.6 133.4,299.7 133.1,297.9 132.9,288.8 132,286.4 130.5,284.7 128.5,283.8 126.1,284.3 124.2,286 118.8,292.8 115.4,296 111.3,297.9 106.7,298.5 98.9,296.9 91.7,294.1 86.8,291 78.5,284.1ZM106.2,201.7 100.4,201.3 93.6,201.6 86.8,202.4 79.9,203.9 74.6,205.6 69.7,207.6 61.5,212.2 58,214.7 57.8,215.2 58.1,217.6 60.5,224.2 61.9,231.9 61.8,234.3 61,239.1 61.2,241.5 65.3,257.3 66.3,259.4 67.8,260.7 69.7,261.3 72.2,260.6 74.6,258.4 79.5,252.5 82.3,250.1 86.3,248 90.2,247.5 94,248 98.4,249.1 107.2,253 111.5,255.6 119.3,262 122.2,263.6 124.7,264 127.6,263.5 130,262.2 131.5,260.6 132.7,257.3 133.1,250.6 134,245.8 134.7,243.9 137.5,239.1 138.2,236.7 136.8,222.8 136.8,219 137.4,213.2 131,209.1 123.7,205.8 114.9,203.2Z" stroke="#80b4f4"/><path d="M75.6,284 72.7,284.2 70.3,285.5 68.3,287.9 67.3,290.8 67.4,293.1 68.6,299.8 66.6,306.1 67.4,311.8 65.9,316.8 65.6,319.5 66,321.9 68.8,328.6 69.7,331.4 69.6,333.8 68.3,337.2 74.6,340.1 84,342.9 91.6,344.1 100.8,344.5 109.1,343.7 117.6,342 125.6,339.2 131.5,336.2 130.8,328.1 130.9,324.7 131.5,322.8 133.5,319.9 133.8,318 132.5,310.4 131.5,308.5 129,305.1 128.3,303.2 128.7,299.8 131,291.2 130.7,288.4 129.5,286.4 127.6,285.6 125.6,286.4 124.1,287.9 118.8,294.9 115.4,297.8 111.5,299.2 107.2,299.6 98.9,298.1 91.1,295.1 86.8,292.4 78.5,285.4ZM103.8,201.8 95,201.8 84.3,203.2 75.4,205.6 71.2,207.3 68.3,208.9 68.4,212.3 66.8,226.6 67.7,232.4 67.4,238.1 68.1,246.3 67.1,254.4 67.6,257.3 68.3,258.3 69.3,259.1 71.2,259.2 73.1,258.1 79,251.2 82.4,248.4 85.8,246.8 89.2,246.4 93.1,246.8 98.4,248.1 108.6,252.5 112,254.6 119.3,260.8 121.7,262.1 124.2,262.5 126.6,262.1 128.5,261.2 129.9,259.7 130.7,257.7 130.8,255.3 128.8,246.7 128.7,244.8 129.8,241.9 133,237.6 133.6,235.2 133.3,231.9 132.4,229.1 131.5,227.5 128.6,224.2 128.1,222.8 128.3,220.4 130.7,213.7 130.4,209.4 125.6,206.9 117.4,204.1 111.1,202.7Z" stroke="#70d8f4"/><path d="M75.6,285.5 73.1,285.8 71.2,287 69.7,289.3 69.4,291.7 70.1,294.1 71.7,296.3 73.6,297.8 77.5,299.7 78.4,300.8 78.4,301.8 77.8,303.2 74.8,306.5 73.9,308 73.2,315.6 73.7,317.6 76.1,320.4 77,322.3 77.2,325.2 76.4,332.4 76.6,335.7 77.3,338.1 79.4,341 81.4,342 88.7,343.5 93.6,344 101.3,344.1 106,343.9 112,342.9 120.9,340.5 121.9,338.6 122.7,333.8 123.1,326.2 124.5,320.9 126.1,317.1 126.5,314.7 125.9,310.9 122.4,304.2 122,301.8 122.6,300.3 126.1,296.7 128.3,293.1 129,290.3 128.3,288.4 127.1,287.7 125.1,288.8 119.8,296.9 117.9,298.8 113,300.3 107.2,300.7 98.4,299.2 89.2,295.8 85.8,293.5 78.7,286.9 77,285.9ZM105.2,202.2 98.4,201.9 88.7,202.7 81.4,204.1 75.1,206.1 74.7,206.5 72.8,216.1 72.6,220.9 71.9,226.2 72,231.4 71.6,236.2 71.9,238.6 73.7,242.9 73.9,244.8 73.3,246.7 69.7,253.4 69.6,255.3 70.5,256.8 71.7,256.9 73.1,255.9 77.5,250.2 80.4,247.7 84.8,245.7 88.7,245.2 92.1,245.6 98.4,247.1 111,252 113,253.3 118.8,259.1 121.7,260.8 123.7,261.1 125.6,260.9 127.1,260.1 128.4,258.7 129,256.3 128.4,253.4 127.1,251.1 123.3,247.2 122.8,245.8 123.4,242.9 127,235.7 127.5,232.9 126.9,230 124.2,226.5 123.1,224.2 122.9,221.9 123.6,215.6 123.2,213.7 121.9,212.3 115.9,209.4 113.7,208 113.5,206.5 115.5,204.1 112,203.2Z" stroke="#84e8d8"/><path d="M94,299.8 91.6,299.4 89.4,299.8 80.9,305.4 78.9,307.5 77.7,309.4 77.2,311.8 77.6,314.2 80.8,319.5 83.4,325.1 87.7,330 89,331.9 89.8,333.8 89.9,337.2 90.3,338.1 91.6,338.1 95.5,335.1 98.4,334.8 100.4,335.3 102.1,336.2 104.8,340 106.2,340.4 107.6,340.1 114.3,335.7 116.4,332.9 117.4,330 117.6,325.7 118.2,322.8 119.6,319.5 122.1,314.7 121.9,311.8 120,308 117.2,303.7 115.9,302.6 114,302.1 107.6,302 99.4,301.2ZM76.5,287.4 74.6,287.2 72.6,288.4 71.6,290.3 72,292.7 73.6,294.5 75.6,295.5 78.5,295.9 80.9,295.5 81.5,295.1 81.8,294.1 81.2,292.2 78.7,288.8ZM122.2,251.4 119.8,251.2 117.9,251.8 116.9,253 117,254.4 118.4,256.8 120.5,258.7 122.7,259.6 124.7,259.5 126.6,258 127,256.8 127,255.3 125.5,253 124.2,252.1ZM100.4,205.4 98.4,205.1 95.5,205.5 93.1,206.1 91.1,207 89.4,208.9 88,213.7 86.8,215.6 85.3,216.8 80.4,219.4 78,221.7 76.8,223.8 76.2,226.2 75.8,233.8 75.9,236.2 77,239.1 79.5,243.2 80.4,244.1 81.9,244.2 86.8,243.6 89.7,243.9 98.9,246.1 106.2,248.6 109.1,248.8 110.8,248.2 112.5,247 118.8,240.5 121.5,235.7 122.1,233.3 122.1,230.9 119.4,224.7 118.7,219.5 117.9,218 116.4,217.1 109.1,214.9 105.3,212.8 103,210.4 101.3,206.3Z" stroke="#aeeeac"/><path d="M109.1,303.7 104.2,303.4 98.4,304.1 92.6,303.7 82.6,308 80.7,310.4 80.4,312.8 81,314.7 85.3,322.1 89.7,325.9 94,328 104.2,331 106.2,330.9 107.9,330 109.7,328.1 113.3,322.8 116.6,314.7 117.1,312.3 116.6,309.4 114.4,305.6 112.5,304.3ZM122.7,254.7 121.4,254.9 121.1,255.8 121.7,256.8 123.2,257.2 123.9,256.8 124,255.8ZM98.4,215.1 96,215.3 94.5,215.8 89.2,219.9 83.4,222.3 81.4,223.8 80.2,225.7 79.8,227.6 79.9,231.4 80.5,234.3 81.9,236.8 84.8,239.9 92,242.9 97,244.2 102.3,244.8 105.7,244.6 109.1,243.7 113.5,241.4 116.7,238.1 118.7,233.8 119,231.9 118.7,230 115.8,225.2 114.4,222.1 113,220.5 111,219.5 105.2,217.6 100.8,215.7Z" stroke="#e2f090"/><path d="M106.2,305.6 92.6,307.1 89.2,308.2 85.3,310.2 84.1,311.8 83.9,313.7 85.1,317.1 86.8,320.1 88.5,321.9 91.1,323.5 93.6,324.6 96,325.1 98.4,325 104.2,323.9 107.6,322.2 109.6,320.4 111.2,318 113,313.7 113.4,310.9 112.6,308.5 111.4,307 109.5,306.1ZM100.8,220.7 99.4,220.4 97.4,221.2 93.3,225.7 88.1,229 86.9,230.9 86.7,232.4 86.9,233.8 88.4,236.7 91.6,239.9 95,241.5 97.9,241.6 110.6,239 113.5,237.2 115.3,234.3 115.4,232 114.5,230.5 113,229.6 108.1,228.6 106.2,227.6 104.7,226 102.4,221.9Z" stroke="#f4da8a"/><path d="M104.2,308 101.3,308.2 94.5,309.4 91.6,310.3 89.5,311.3 87.9,312.8 87.3,314.2 87.4,316.1 88.4,318.5 91.1,321 93.6,322.1 95.5,322.5 98.4,322.1 105.1,319.5 106.6,318 108.3,315.6 109.4,313.2 109.7,311.3 109.2,309.9 108.1,308.9 106.7,308.3ZM99.4,227.1 98.4,227.1 97,227.9 93.5,231.4 93.4,233.3 95.1,235.7 97.9,237 102.8,237.5 106.7,236.7 109.6,235.2 110.1,233.8 109.4,232.9Z" stroke="#f4b08a"/><path d="M102.3,310.4 97,311.3 92.1,313.2 91,314.2 90.5,315.2 90.4,316.6 90.8,317.6 91.6,318.5 93.1,319.5 96,320.1 98.4,319.5 102.3,317.6 104.7,315.2 105.6,312.8 105.4,311.8 104.7,311.1Z" stroke="#ec7676"/></g>
<ellipse cx="98.9" cy="273.05" rx="73.98" ry="72.85" fill="none" stroke="#7a7a7a" stroke-width="0.75"/>
<ellipse cx="98.9" cy="273.05" rx="36.99" ry="36.42" fill="none" stroke="#7a7a7a" stroke-width="0.75"/>
<ellipse cx="98.9" cy="273.05" rx="18.49" ry="18.21" fill="none" stroke="#7a7a7a" stroke-width="0.75"/>
<ellipse cx="98.9" cy="273.05" rx="9.25" ry="9.11" fill="none" stroke="#7a7a7a" stroke-width="0.75"/>
<line x1="55.52" y1="332.76" x2="135.93" y2="222.08" stroke="#a0a0a0" stroke-width="0.6"/>
<line x1="39.19" y1="229.67" x2="149.87" y2="310.08" stroke="#a0a0a0" stroke-width="0.6"/>
<path d="M151.0,222.6L150.6,222.2L150.1,221.7L149.7,221.3L149.2,220.9L148.7,220.4L148.3,220.0L147.8,219.6L147.3,219.2L146.8,218.8L146.4,218.3L145.9,217.9L145.4,217.5L144.9,217.1L144.4,216.7L143.9,216.4L143.4,216.0L142.9,215.6L142.4,215.2L141.9,214.8L141.3,214.5L140.8,214.1L140.3,213.8L139.8,213.4L139.2,213.1L138.7,212.7L138.2,212.4L137.6,212.0L137.1,211.7L136.5,211.4L136.0,211.1L135.4,210.7L134.9,210.4L134.3,210.1L133.8,209.8L133.2,209.5L132.6,209.2L132.1,208.9L131.5,208.7L130.9,208.4L130.4,208.1L129.8,207.8L129.2,207.6L128.6,207.3L128.0,207.1L127.5,206.8L126.9,206.6L126.3,206.3L125.7,206.1L125.1,205.9L124.5,205.7L123.9,205.4L123.3,205.2L122.7,205.0L122.1,204.8L121.5,204.6L120.9,204.4L120.3,204.2L119.7,204.1L119.0,203.9L118.4,203.7L117.8,203.6L117.2,203.4L116.6,203.2L116.0,203.1L115.3,202.9L114.7,202.8L114.1,202.7L113.5,202.5L112.8,202.4L112.2,202.3L111.6,202.2L111.0,202.1L110.3,202.0L109.7,201.9L109.1,201.8L108.4,201.7L107.8,201.6L107.2,201.6L106.5,201.5L105.9,201.4L105.3,201.4L104.6,201.3L104.0,201.3L103.4,201.2L102.7,201.2L102.1,201.2L101.5,201.1L100.8,201.1L100.2,201.1L99.5,201.1L98.9,201.1L98.3,201.1L97.6,201.1L97.0,201.1L96.3,201.1L95.7,201.2L95.1,201.2L94.4,201.2L93.8,201.3L93.2,201.3L92.5,201.4L91.9,201.4L91.3,201.5L90.6,201.6L90.0,201.6L89.4,201.7L88.7,201.8L88.1,201.9L87.5,202.0L86.8,202.1L86.2,202.2L85.6,202.3L85.0,202.4L84.3,202.5L83.7,202.7L83.1,202.8L82.5,202.9L81.8,203.1L81.2,203.2L80.6,203.4L80.0,203.6L79.4,203.7L78.8,203.9L78.1,204.1L77.5,204.2L76.9,204.4L76.3,204.6L75.7,204.8L75.1,205.0L74.5,205.2L73.9,205.4L73.3,205.7L72.7,205.9L72.1,206.1L71.5,206.3L70.9,206.6L70.3,206.8L69.8,207.1L69.2,207.3L68.6,207.6L68.0,207.8L67.4,208.1L66.9,208.4L66.3,208.7L65.7,208.9L65.2,209.2L64.6,209.5L64.0,209.8L63.5,210.1L62.9,210.4L62.4,210.7L61.8,211.1L61.3,211.4L60.7,211.7L60.2,212.0L59.6,212.4L59.1,212.7L58.6,213.1L58.0,213.4L57.5,213.8L57.0,214.1L56.5,214.5L55.9,214.8L55.4,215.2L54.9,215.6L54.4,216.0L53.9,216.4L53.4,216.7L52.9,217.1L52.4,217.5L51.9,217.9L51.4,218.3L51.0,218.8L50.5,219.2L50.0,219.6L49.5,220.0L49.1,220.4L48.6,220.9L48.1,221.3L47.7,221.7L47.2,222.2L46.8,222.6M46.8,323.5L47.2,323.9L47.7,324.4L48.1,324.8L48.6,325.2L49.1,325.7L49.5,326.1L50.0,326.5L50.5,326.9L51.0,327.3L51.4,327.8L51.9,328.2L52.4,328.6L52.9,329.0L53.4,329.4L53.9,329.7L54.4,330.1L54.9,330.5L55.4,330.9L55.9,331.3L56.5,331.6L57.0,332.0L57.5,332.3L58.0,332.7L58.6,333.0L59.1,333.4L59.6,333.7L60.2,334.1L60.7,334.4L61.3,334.7L61.8,335.0L62.4,335.4L62.9,335.7L63.5,336.0L64.0,336.3L64.6,336.6L65.2,336.9L65.7,337.2L66.3,337.4L66.9,337.7L67.4,338.0L68.0,338.3L68.6,338.5L69.2,338.8L69.8,339.0L70.3,339.3L70.9,339.5L71.5,339.8L72.1,340.0L72.7,340.2L73.3,340.4L73.9,340.7L74.5,340.9L75.1,341.1L75.7,341.3L76.3,341.5L76.9,341.7L77.5,341.9L78.1,342.0L78.8,342.2L79.4,342.4L80.0,342.5L80.6,342.7L81.2,342.9L81.8,343.0L82.5,343.2L83.1,343.3L83.7,343.4L84.3,343.6L85.0,343.7L85.6,343.8L86.2,343.9L86.8,344.0L87.5,344.1L88.1,344.2L88.7,344.3L89.4,344.4L90.0,344.5L90.6,344.5L91.3,344.6L91.9,344.7L92.5,344.7L93.2,344.8L93.8,344.8L94.4,344.9L95.1,344.9L95.7,344.9L96.3,345.0L97.0,345.0L97.6,345.0L98.3,345.0L98.9,345.0L99.5,345.0L100.2,345.0L100.8,345.0L101.5,345.0L102.1,344.9L102.7,344.9L103.4,344.9L104.0,344.8L104.6,344.8L105.3,344.7L105.9,344.7L106.5,344.6L107.2,344.5L107.8,344.5L108.4,344.4L109.1,344.3L109.7,344.2L110.3,344.1L111.0,344.0L111.6,343.9L112.2,343.8L112.8,343.7L113.5,343.6L114.1,343.4L114.7,343.3L115.3,343.2L116.0,343.0L116.6,342.9L117.2,342.7L117.8,342.5L118.4,342.4L119.0,342.2L119.7,342.0L120.3,341.9L120.9,341.7L121.5,341.5L122.1,341.3L122.7,341.1L123.3,340.9L123.9,340.7L124.5,340.4L125.1,340.2L125.7,340.0L126.3,339.8L126.9,339.5L127.5,339.3L128.0,339.0L128.6,338.8L129.2,338.5L129.8,338.3L130.4,338.0L130.9,337.7L131.5,337.4L132.1,337.2L132.6,336.9L133.2,336.6L133.8,336.3L134.3,336.0L134.9,335.7L135.4,335.4L136.0,335.0L136.5,334.7L137.1,334.4L137.6,334.1L138.2,333.7L138.7,333.4L139.2,333.0L139.8,332.7L140.3,332.3L140.8,332.0L141.3,331.6L141.9,331.3L142.4,330.9L142.9,330.5L143.4,330.1L143.9,329.7L144.4,329.4L144.9,329.0L145.4,328.6L145.9,328.2L146.4,327.8L146.8,327.3L147.3,326.9L147.8,326.5L148.3,326.1L148.7,325.7L149.2,325.2L149.7,324.8L150.1,324.4L150.6,323.9L151.0,323.5" fill="none" stroke="#4242d4" stroke-width="0.85" stroke-linecap="round"/>
</g>
<text x="98.9" y="347.5" font-size="4.1" fill="#707070" text-anchor="middle">100 m</text>
<text x="98.9" y="311.07" font-size="4.1" fill="#707070" text-anchor="middle">200 m</text>
<text x="98.9" y="292.86" font-size="4.1" fill="#707070" text-anchor="middle">400 m</text>
<text x="98.9" y="283.76" font-size="4.1" fill="#707070" text-anchor="middle">800 m</text>
<path d="M146.51,207.52L124.56,225.31L136.69,221.89Z" fill="#828282"/>
<path d="M146.51,207.52L136.69,221.89L136.37,233.9Z" fill="#5e5e5e"/>
<text x="142.85" y="216.98" font-size="6.8" font-weight="bold" fill="#111" text-anchor="middle" dominant-baseline="central" transform="rotate(-47 142.85 216.98)">North</text>
<path d="M164.43,320.66L146.64,298.71L150.06,310.84Z" fill="#828282"/>
<path d="M164.43,320.66L150.06,310.84L138.05,310.52Z" fill="#5e5e5e"/>
<text x="154.97" y="317" font-size="6.8" font-weight="bold" fill="#111" text-anchor="middle" dominant-baseline="central" transform="rotate(36 154.97 317)">East</text>
<rect x="25.9" y="200.4" width="146" height="145.7" fill="none" stroke="#9a9a9a" stroke-width="0.9"/>
<text x="28.22" y="354.3" font-size="5" fill="#1c1c1c" text-anchor="middle">−0.06</text>
<text x="22.5" y="344.45" font-size="5" fill="#1c1c1c" text-anchor="end">−0.06</text>
<text x="51.78" y="354.3" font-size="5" fill="#1c1c1c" text-anchor="middle">−0.04</text>
<text x="22.5" y="321.25" font-size="5" fill="#1c1c1c" text-anchor="end">−0.04</text>
<text x="75.34" y="354.3" font-size="5" fill="#1c1c1c" text-anchor="middle">−0.02</text>
<text x="22.5" y="298.05" font-size="5" fill="#1c1c1c" text-anchor="end">−0.02</text>
<text x="98.9" y="354.3" font-size="5" fill="#1c1c1c" text-anchor="middle">0</text>
<text x="22.5" y="274.85" font-size="5" fill="#1c1c1c" text-anchor="end">0</text>
<text x="122.46" y="354.3" font-size="5" fill="#1c1c1c" text-anchor="middle">0.02</text>
<text x="22.5" y="251.65" font-size="5" fill="#1c1c1c" text-anchor="end">0.02</text>
<text x="146.02" y="354.3" font-size="5" fill="#1c1c1c" text-anchor="middle">0.04</text>
<text x="22.5" y="228.45" font-size="5" fill="#1c1c1c" text-anchor="end">0.04</text>
<text x="169.58" y="354.3" font-size="5" fill="#1c1c1c" text-anchor="middle">0.06</text>
<text x="22.5" y="205.25" font-size="5" fill="#1c1c1c" text-anchor="end">0.06</text>
<path d="M28.22,346.1v-1.3M28.22,200.4v1.3M25.9,342.65h1.3M171.9,342.65h-1.3M51.78,346.1v-1.3M51.78,200.4v1.3M25.9,319.45h1.3M171.9,319.45h-1.3M75.34,346.1v-1.3M75.34,200.4v1.3M25.9,296.25h1.3M171.9,296.25h-1.3M98.9,346.1v-1.3M98.9,200.4v1.3M25.9,273.05h1.3M171.9,273.05h-1.3M122.46,346.1v-1.3M122.46,200.4v1.3M25.9,249.85h1.3M171.9,249.85h-1.3M146.02,346.1v-1.3M146.02,200.4v1.3M25.9,226.65h1.3M171.9,226.65h-1.3M169.58,346.1v-1.3M169.58,200.4v1.3M25.9,203.45h1.3M171.9,203.45h-1.3" stroke="#9a9a9a" stroke-width="0.6" fill="none"/>
<text transform="translate(98.9 362.5) scale(1.0 1.15)" font-size="6.2" fill="#1c1c1c" text-anchor="middle" stroke="#1c1c1c" stroke-width="0.18">Range Wavenumber (rad/m)</text>
<text transform="translate(8.6 273.05) rotate(-90) scale(1.0 1.15)" font-size="6.2" fill="#1c1c1c" text-anchor="middle" stroke="#1c1c1c" stroke-width="0.18">Azimuth Wavenumber (rad/m)</text>
<text transform="translate(98.9 197.9) scale(1.0 1.15)" font-size="6.15" fill="#1c1c1c" text-anchor="middle" stroke="#1c1c1c" stroke-width="0.18">Simulated_SAR_Spectrum(MPI)(Max:44.26)</text>
<text transform="translate(96.7 377.7) scale(1.07 1.0)" font-size="13.5" fill="#111" text-anchor="middle" font-family="Liberation Serif, serif" stroke="#111" stroke-width="0.12">(c)</text>
<clipPath id="clipd"><rect x="208.3" y="200.6" width="146" height="145.7"/></clipPath>
<g clip-path="url(#clipd)">
<g fill="none" stroke-width="0.8" stroke-linejoin="round"><path d="M287.1,200.9 279.4,200.8 271.1,201.4 261.9,203.3 254.6,205.7 246.8,209.3 239.2,213.9 233,219.2 231.1,221.6 230,223.5 229.9,232.6 230.8,242.1 231.5,246 233.4,252.7 235.1,256.6 237.6,260.5 245.7,269.9 242.9,273.8 240.4,280.4 236.1,287.6 233.7,294.3 230.9,304.8 229.9,311.1 229.7,318.7 230.2,323.5 233.2,327.3 237.4,331.1 242.9,335 248.9,338.3 254.6,340.8 261.9,343.2 268.2,344.6 275.5,345.6 283.7,345.7 291.5,345.1 300.7,343.2 308,340.8 315.8,337.2 323.3,332.6 329.5,327.3 331.5,324.9 332.5,323 332.5,311.5 330.6,299.6 327,288.7 325,285.5 321.3,281.9 319,274.7 319.3,273.2 321.1,269.3 326.5,259.7 330.6,247.9 331.7,242.6 332.4,235.9 332.7,223.5 330.3,220.1 325.8,215.8 320.5,212 313.7,208.2 308,205.7 300.7,203.3 294.4,201.9ZM276,250.8 281.5,253.2 289.6,257.5 304.6,267.7 313.8,273.2 314.2,274.2 314,275.6 312.9,277.1 303.4,285.2 291.7,293.3 287.1,295.7 279.2,292.4 272.2,288.6 259.9,280.1 248.5,273.2 246.8,270.4 247,269.4 248.2,268.5 265.9,256 273,251.7 275.1,250.8Z" stroke="#6a6ae0"/><path d="M251.2,277.5 248.3,277.2 247.3,277.6 246.1,279 243.9,284.5 240.5,290.5 235.4,301.5 233.5,306.7 232.7,310.6 232.5,315.8 233.5,323 233.6,326.4 237.8,330.7 243.7,335 248.7,337.8 253.6,340 259.4,342.1 265.3,343.7 271.1,344.7 276.4,345.3 282.8,345.4 288.6,345.1 294.4,344.2 300.7,342.8 306.1,341.2 311.4,339 316.8,336.2 322.1,332.8 326.4,329.2 329.1,326.4 329.4,313 328.8,308.2 327.5,301.5 324.2,293.8 322.7,291.4 314.3,284.7 313.3,284.3 311.9,284.1 309,285.1 292.3,295.7 287.6,297.9 275.3,292.4 258.9,281.2 254.6,278.8ZM288.6,201.4 282.3,201.1 275,201.4 268.2,202.3 261.4,203.8 255.5,205.7 249.9,208.2 242.9,212 238.2,215.4 234.1,219.2 232.9,221.1 233.1,233.1 234.4,242.6 235.2,245.5 238.2,252.2 240.1,255.1 242.4,257 249.2,260.8 251.7,260.9 255.5,259.5 269.8,250.8 275,248.5 280.6,250.8 288.6,255.1 302.2,264.4 307.1,267.4 311.9,269.4 314.8,269.6 315.9,268.9 316.9,267.5 319.7,258.9 321.8,255.1 326,249.1 327.7,245 329.3,235.9 329,220.1 326.4,217.3 321.7,213.4 316.8,210.3 311.4,207.5 306.1,205.4 300.3,203.5 294.9,202.3Z" stroke="#7676e6"/><path d="M252.1,279.5 249.7,279.7 248.5,280.9 247.9,282.8 247.4,287.6 246.8,289.8 239.3,302.4 236.7,308.2 236,310.6 235.9,315.4 237.1,323.5 237.4,329.2 237.6,329.7 239.2,331.1 242.9,333.9 247,336.4 252.1,339 257.5,341.1 262.8,342.7 273.5,344.7 285.2,345 291,344.4 296.8,343.4 302.2,342 307.5,340.2 312,338.3 316.8,335.7 321.6,332.6 325,329.7 325.3,324.9 325,320.1 325,310.6 324.7,307.7 323.9,304.8 322.1,300.7 319.7,297.1 311.4,290.2 309.5,289.3 307.5,289.6 299.3,293.4 291.3,298.1 288.6,299.3 287.6,299.4 275.5,293.9 259.4,282.6 255.5,280.5ZM284.7,201.5 278.4,201.5 271.6,202.1 264.8,203.3 258.5,205 252.8,207.2 247.2,210.1 241.5,213.5 237.3,216.8 236.4,218.2 237.1,223.5 237.6,237.4 238.1,239.8 240.2,245.5 242.3,249.8 243.9,251.7 245.8,253 251.7,255.8 253.6,256.3 256,256 259.4,254.8 270.6,248.5 273.5,247.3 275,247.1 281.3,249.8 289.1,254.1 301.7,263 305.6,265.4 310,267.3 312.9,267.3 314.3,266.1 315.1,264.2 315.6,257.5 316.3,255.1 323.1,245.3 324.2,243.1 325,240.2 325.6,235.9 325,230.2 325.1,222.5 324.5,216.8 322.2,214.4 318.2,211.7 312.9,208.6 307.5,206.3 301.8,204.3 296.4,203Z" stroke="#8890ee"/><path d="M254.6,281.3 252.1,281.1 251.2,281.5 250.5,282.3 249.9,284.7 249.9,291.4 249.3,294.3 248.2,296.2 245.2,299.6 243.4,302.2 241.7,305.8 240.1,310.6 239.9,313 240.8,322.1 242.9,333.1 243.9,334 252.6,338.8 262.3,342.3 272.1,344.2 282.8,344.7 292.5,343.9 303.2,341.4 311.4,338.2 319.2,333.5 320,330.7 319.9,325.9 320.6,319.2 320.6,313 320.1,309.6 319.3,306.7 318.2,304.8 314.7,301.5 310.9,296.5 307.1,294.4 305.1,294 303.2,294.2 299.8,295.2 292,299.4 288.1,300.7 281.3,298 275.5,295 260.4,284 257.5,282.4ZM286.6,201.9 280.8,201.8 274,202.2 267.2,203.2 261.4,204.5 256.5,206.1 252.1,207.9 241,214.4 240.7,214.9 240.9,217.7 243.3,224.4 244.2,231.6 243.8,239.3 244.2,241.7 246.3,245.5 248.8,248.4 252.1,250.3 257.5,252.2 259.4,252.2 261.4,251.8 270.6,247 274,245.8 275,246 281.6,248.8 289.1,253 304.6,264 308.5,265.7 310,265.9 311.4,265.7 312.7,264.6 313.4,262.2 312.9,254.6 313.2,252.2 320.7,240.7 321.9,237.4 322,235 319.8,218.7 319.9,213.4 313,209.1 305.6,205.9 296.4,203.3Z" stroke="#80b4f4"/><path d="M256.5,282.8 253.6,282.5 252.6,282.9 252,283.8 251.6,286.6 252.8,295.3 252.7,297.7 251.7,299.4 248.3,302.6 246.6,304.8 245.5,307.2 245,310.1 245.1,316.8 245.8,320.6 251.7,330.7 252.4,332.6 252.6,334.5 251.7,337.8 258.5,340.7 267.4,343.1 275,344.2 283.7,344.3 291,343.7 299.2,342.2 306.6,339.9 312,337.4 312.3,336.9 312,325.4 312.8,323 315.3,320.3 315.9,319.2 315.5,312.5 314.3,309.6 310.2,305.3 307.1,300.9 303.2,298.2 300.7,297.7 298.3,298.2 288.6,301.9 285.8,301 280.3,298.8 275,295.9 261.9,285.8 258.9,283.9ZM288.1,202.4 282.8,202.1 276.4,202.3 268.2,203.4 259.8,205.3 252.6,208.2 252.4,211.5 251.3,216.8 250.8,221.6 249.5,227.3 250,232.6 249.9,237.4 250.5,240.2 251.7,242.9 253.1,244.7 257.4,247.9 259.9,249.1 261.4,249.2 263.3,248.8 269.2,246.1 273,244.8 274,244.7 276.4,245.6 282.8,248.3 289.6,252.4 303.7,262.7 307.5,264.4 310,264.5 311.4,263.2 311.9,260.8 311.6,257.9 309.7,251.2 309.9,248.8 312.5,244.1 317.7,238.5 318.5,236.9 318.7,235.4 318.3,232.1 317.2,228.7 315.8,226.7 312.6,223.5 311.9,222.1 311.9,220.1 313.1,214.4 312.4,210.6 311.8,209.1 311.1,208.7 305.4,206.3 296.8,203.8Z" stroke="#70d8f4"/><path d="M256.5,283.7 254.6,283.7 253.6,284.4 253.1,286.2 253.2,288.6 254.5,293.3 256,296.5 258.4,300 258.7,301.5 257.5,303.1 252.4,305.8 250.9,307.7 249.9,316.8 250.4,319.2 251.7,321.5 253.6,323.1 257,324.6 258.2,325.4 259.2,326.8 260.9,330.7 261.9,331.1 265.3,330.8 267.2,331.4 268.6,332.6 271.6,336.8 273,336.7 277.9,334.4 281.3,334.2 285.2,335.2 286.3,335.9 288.4,338.3 290,338.8 298.3,335.9 299.8,334.2 301.4,331.1 303.3,324.4 305.5,320.6 308,317.3 308.6,315.8 308.9,313.9 308.6,312 307.8,310.1 306.5,308.2 300.7,302.6 298.3,301.2 295.4,301.3 288.6,302.9 282.8,301.2 279.4,299.8 273.5,296.2 261.9,286.5 258.9,284.6ZM277.9,207.7 275,207.9 273,209 272.1,210.3 270.4,213.9 268.7,215.6 266.7,216.5 261.4,218 258.9,219.4 257.5,220.9 256,224 255,228.3 254.1,235.4 254.2,237.4 254.7,238.8 256,240.6 259.4,243.7 261.4,245.2 262.8,245.8 264.8,245.8 269.6,244.3 273.5,243.6 281.8,246.7 290.5,252 298.5,258.4 303.2,261.7 306.6,263.2 309.1,263.2 310,262.4 310.4,261.3 310.3,258.4 308.9,254.6 305.9,249.3 305.4,246.9 306.4,245 313.1,238.8 314.6,236.9 315,235.4 315.1,233.5 313.9,230.2 312.4,228.3 308.5,225.4 307.2,224 306.4,222.1 305.7,216.8 305.1,215.4 304.1,214.5 302.7,213.9 300.3,213.5 293.9,214.1 290,213.5 284.6,211.5 279.4,208.2Z" stroke="#84e8d8"/><path d="M256.5,284.7 255.1,285.2 254.5,286.2 254.4,288.6 255,291 257.3,295.3 262,300.5 262.5,302.4 261.4,304.4 256.7,307.7 255.3,309.6 254.9,311.5 254.8,314.4 255.3,315.8 256,316.8 261.6,320.1 266.7,325.1 270.6,327.1 274,328.1 286.2,330 288.1,330 291,328.8 294.9,325.8 296.4,324.2 299.7,319.2 303.3,315.8 304.2,314.4 304.4,313 304,311.5 301.8,308.2 298.4,304.8 296.4,303.7 293.9,303.4 289.1,304.1 281.3,302.7 278.4,301.6 273.5,298.2 268.1,292.4 263,288.1 259.4,285.6ZM282.8,216.2 280.8,216.2 278.3,216.8 271.6,220.1 265.3,221.5 262.3,223.1 260.6,225.4 259.4,228.7 258.3,234 258.4,235.9 258.9,237.4 261.4,240 264.8,242.1 267.2,242.5 273.5,242.4 284.2,246.4 291,251.1 297.7,257 302.2,260.4 305.6,262.1 307.1,262.3 308,262.1 308.8,261.3 309.1,260.3 309.1,258.4 308.5,256.7 306.8,253.6 302.1,247.9 301.4,246.5 301.3,245 301.7,243.9 302.7,242.7 307.7,238.8 310,236.4 310.8,234 310.3,231.6 309.2,230.2 303.6,225.4 302.4,223.5 301.1,220.1 300.2,219.2 298.3,218.5 287.6,217.3Z" stroke="#aeeeac"/><path d="M258.5,286.1 256.5,286.1 255.7,287.1 255.8,289.5 256.7,291.9 259,295.3 266.4,301.5 267.2,302.9 266.5,303.9 261.4,307.3 259.4,309.1 258.4,311.1 258.5,313.4 260.1,315.8 263.8,318.6 267.2,321.7 270.1,323.4 274,324.8 277.4,325.4 280.3,325.2 287.6,323.2 290,322.2 293.4,319.7 297.4,315.4 298.9,313 299,311.1 297.9,308.7 295.9,306.4 293,305.3 280.2,304.8 277.4,304 272.9,302 271.6,300.8 269.9,296.2 267.5,292.9 262,288.1ZM283.2,221 281.8,221.1 280.3,221.7 276.4,225.3 274.5,226.5 265.1,229.2 264.2,230.2 263.5,232.1 263.4,234 264,235.4 266.4,237.8 269.7,239.8 277.9,242.7 284.2,243.9 286.2,244.7 287.6,245.7 296.6,255.1 299.9,257.9 304.1,260.7 305.6,261.1 307.1,260.9 307.6,260.3 307.9,258.9 306.7,255.5 304.6,252.9 299.1,247.4 298,245 298.1,244.1 298.8,242.6 303.5,238.3 305.4,235.9 306.2,233.5 305.4,231.1 302.7,228 297.8,223.7 296.1,222.5 293,221.9 288.1,222.9Z" stroke="#e2f090"/><path d="M274,305.8 271.1,306.1 264.8,307.7 262.1,309.6 261.1,311.5 261.4,313.4 262.9,315.4 268.7,320 272.6,321.9 276,322.7 278.4,322.8 286.6,320 289.1,318.6 292,316.3 293.9,314.3 295,312.5 295.2,311.1 294.8,309.6 293.5,308.2 292,307.4 287.1,306.7 280.3,306.8ZM259.4,287.5 258,287.3 257.4,287.6 257.1,288.6 257.5,290.7 258.9,293.1 261,295.3 263.8,297.2 265.8,298 267.2,297.8 267.7,297.2 267.8,295.7 266.6,293.3 262.6,289.5ZM296.4,248.6 294.9,248.6 294.8,249.8 295.7,252.2 297.4,254.6 300.4,257.5 303.2,259.3 305.1,259.9 306.1,259.5 306.4,258.4 306.1,257 304.2,254.1 300.7,251.1ZM283.7,226.8 281.8,226.5 280.3,226.9 272.1,231.4 271.1,232.6 270.6,234 270.9,235.4 271.9,236.9 274.2,238.8 277.2,240.2 285.7,241.3 293,243.4 299.5,238.8 301.5,236.9 302.4,235.4 303,233.1 302.4,231.1 300.7,229.2 298.8,228.1 295.9,227.5 291.5,228.3 289.1,228.3Z" stroke="#f4da8a"/><path d="M287.1,308.6 275,308.2 271.6,308.5 267.7,309.3 265.8,310 264.6,311.1 264.2,312.5 264.6,313.4 265.8,314.9 271.1,319.1 275,320.5 278.4,320.6 280.8,319.9 286.2,317.4 288.6,315.6 290.6,313.4 291.2,312 291,310.6 289.6,309.4ZM259.9,289.5 259.4,289.9 259.4,290.5 260.5,292.4 262.3,294.1 264.3,294.8 264.8,294.4 264.8,293.8 263.9,292.4 261.9,290.5ZM300.3,253 298.9,253.2 299,254.1 299.6,255.1 302.2,257.5 303.2,257.9 304.1,257.8 304.1,256.5 303.2,255.1ZM283.7,229.7 282,229.7 280.6,230.2 277.7,232.6 277.2,233.5 277.1,235 277.6,235.9 278.7,236.9 280.9,237.8 285.2,238.8 289.6,239.3 293,239.4 295.4,238.7 297.3,237.6 299.1,235.9 299.9,234.5 300.1,233.1 299.8,232.1 298.9,231.1 297.8,230.5 295.9,230.2 289.1,230.5Z" stroke="#f4b08a"/><path d="M284.7,310.6 276.4,310.5 273,310.9 269.8,312 269.3,312.5 269.1,313.4 270.5,315.8 272.9,317.8 275.5,318.5 278.4,318.4 283.4,316.3 286.4,313.9 286.9,313 286.9,312 286.1,311.1ZM293.9,233 285.2,232.7 283.7,233.2 283.3,234.5 284.2,235.7 286,236.4 289.1,236.7 292.5,236.6 294.4,236 295.5,235 295.4,233.7Z" stroke="#ec7676"/></g>
<ellipse cx="281.3" cy="273.25" rx="73.98" ry="72.85" fill="none" stroke="#7a7a7a" stroke-width="0.75"/>
<ellipse cx="281.3" cy="273.25" rx="36.99" ry="36.42" fill="none" stroke="#7a7a7a" stroke-width="0.75"/>
<ellipse cx="281.3" cy="273.25" rx="18.49" ry="18.21" fill="none" stroke="#7a7a7a" stroke-width="0.75"/>
<ellipse cx="281.3" cy="273.25" rx="9.25" ry="9.11" fill="none" stroke="#7a7a7a" stroke-width="0.75"/>
<line x1="237.92" y1="332.96" x2="318.33" y2="222.28" stroke="#a0a0a0" stroke-width="0.6"/>
<line x1="221.59" y1="229.87" x2="332.27" y2="310.28" stroke="#a0a0a0" stroke-width="0.6"/>
<path d="M333.9,223.3L333.4,222.8L333.0,222.4L332.5,221.9L332.1,221.5L331.6,221.1L331.1,220.6L330.7,220.2L330.2,219.8L329.7,219.4L329.2,219.0L328.8,218.5L328.3,218.1L327.8,217.7L327.3,217.3L326.8,216.9L326.3,216.6L325.8,216.2L325.3,215.8L324.8,215.4L324.3,215.0L323.7,214.7L323.2,214.3L322.7,214.0L322.2,213.6L321.6,213.3L321.1,212.9L320.6,212.6L320.0,212.2L319.5,211.9L318.9,211.6L318.4,211.3L317.8,210.9L317.3,210.6L316.7,210.3L316.2,210.0L315.6,209.7L315.0,209.4L314.5,209.1L313.9,208.9L313.3,208.6L312.8,208.3L312.2,208.0L311.6,207.8L311.0,207.5L310.4,207.3L309.9,207.0L309.3,206.8L308.7,206.5L308.1,206.3L307.5,206.1L306.9,205.9L306.3,205.6L305.7,205.4L305.1,205.2L304.5,205.0L303.9,204.8L303.3,204.6L302.7,204.4L302.1,204.3L301.4,204.1L300.8,203.9L300.2,203.8L299.6,203.6L299.0,203.4L298.4,203.3L297.7,203.1L297.1,203.0L296.5,202.9L295.9,202.7L295.2,202.6L294.6,202.5L294.0,202.4L293.4,202.3L292.7,202.2L292.1,202.1L291.5,202.0L290.8,201.9L290.2,201.8L289.6,201.8L288.9,201.7L288.3,201.6L287.7,201.6L287.0,201.5L286.4,201.5L285.8,201.4L285.1,201.4L284.5,201.4L283.9,201.3L283.2,201.3L282.6,201.3L281.9,201.3L281.3,201.3L280.7,201.3L280.0,201.3L279.4,201.3L278.7,201.3L278.1,201.4L277.5,201.4L276.8,201.4L276.2,201.5L275.6,201.5L274.9,201.6L274.3,201.6L273.7,201.7L273.0,201.8L272.4,201.8L271.8,201.9L271.1,202.0L270.5,202.1L269.9,202.2L269.2,202.3L268.6,202.4L268.0,202.5L267.4,202.6L266.7,202.7L266.1,202.9L265.5,203.0L264.9,203.1L264.2,203.3L263.6,203.4L263.0,203.6L262.4,203.8L261.8,203.9L261.2,204.1L260.5,204.3L259.9,204.4L259.3,204.6L258.7,204.8L258.1,205.0L257.5,205.2L256.9,205.4L256.3,205.6L255.7,205.9L255.1,206.1L254.5,206.3L253.9,206.5L253.3,206.8L252.7,207.0L252.2,207.3L251.6,207.5L251.0,207.8L250.4,208.0L249.8,208.3L249.3,208.6L248.7,208.9L248.1,209.1L247.6,209.4L247.0,209.7L246.4,210.0L245.9,210.3L245.3,210.6L244.8,210.9L244.2,211.3L243.7,211.6L243.1,211.9L242.6,212.2L242.0,212.6L241.5,212.9L241.0,213.3L240.4,213.6L239.9,214.0L239.4,214.3L238.9,214.7L238.3,215.0L237.8,215.4L237.3,215.8L236.8,216.2L236.3,216.6L235.8,216.9L235.3,217.3L234.8,217.7L234.3,218.1L233.8,218.5L233.4,219.0L232.9,219.4L232.4,219.8L231.9,220.2L231.5,220.6L231.0,221.1L230.5,221.5L230.1,221.9L229.6,222.4L229.2,222.8M228.7,323.2L229.2,323.7L229.6,324.1L230.1,324.6L230.5,325.0L231.0,325.4L231.5,325.9L231.9,326.3L232.4,326.7L232.9,327.1L233.4,327.5L233.8,328.0L234.3,328.4L234.8,328.8L235.3,329.2L235.8,329.6L236.3,329.9L236.8,330.3L237.3,330.7L237.8,331.1L238.3,331.5L238.9,331.8L239.4,332.2L239.9,332.5L240.4,332.9L241.0,333.2L241.5,333.6L242.0,333.9L242.6,334.3L243.1,334.6L243.7,334.9L244.2,335.2L244.8,335.6L245.3,335.9L245.9,336.2L246.4,336.5L247.0,336.8L247.6,337.1L248.1,337.4L248.7,337.6L249.3,337.9L249.8,338.2L250.4,338.5L251.0,338.7L251.6,339.0L252.2,339.2L252.7,339.5L253.3,339.7L253.9,340.0L254.5,340.2L255.1,340.4L255.7,340.6L256.3,340.9L256.9,341.1L257.5,341.3L258.1,341.5L258.7,341.7L259.3,341.9L259.9,342.1L260.5,342.2L261.2,342.4L261.8,342.6L262.4,342.7L263.0,342.9L263.6,343.1L264.2,343.2L264.9,343.4L265.5,343.5L266.1,343.6L266.7,343.8L267.4,343.9L268.0,344.0L268.6,344.1L269.2,344.2L269.9,344.3L270.5,344.4L271.1,344.5L271.8,344.6L272.4,344.7L273.0,344.7L273.7,344.8L274.3,344.9L274.9,344.9L275.6,345.0L276.2,345.0L276.8,345.1L277.5,345.1L278.1,345.1L278.7,345.2L279.4,345.2L280.0,345.2L280.7,345.2L281.3,345.2L281.9,345.2L282.6,345.2L283.2,345.2L283.9,345.2L284.5,345.1L285.1,345.1L285.8,345.1L286.4,345.0L287.0,345.0L287.7,344.9L288.3,344.9L288.9,344.8L289.6,344.7L290.2,344.7L290.8,344.6L291.5,344.5L292.1,344.4L292.7,344.3L293.4,344.2L294.0,344.1L294.6,344.0L295.2,343.9L295.9,343.8L296.5,343.6L297.1,343.5L297.7,343.4L298.4,343.2L299.0,343.1L299.6,342.9L300.2,342.7L300.8,342.6L301.4,342.4L302.1,342.2L302.7,342.1L303.3,341.9L303.9,341.7L304.5,341.5L305.1,341.3L305.7,341.1L306.3,340.9L306.9,340.6L307.5,340.4L308.1,340.2L308.7,340.0L309.3,339.7L309.9,339.5L310.4,339.2L311.0,339.0L311.6,338.7L312.2,338.5L312.8,338.2L313.3,337.9L313.9,337.6L314.5,337.4L315.0,337.1L315.6,336.8L316.2,336.5L316.7,336.2L317.3,335.9L317.8,335.6L318.4,335.2L318.9,334.9L319.5,334.6L320.0,334.3L320.6,333.9L321.1,333.6L321.6,333.2L322.2,332.9L322.7,332.5L323.2,332.2L323.7,331.8L324.3,331.5L324.8,331.1L325.3,330.7L325.8,330.3L326.3,329.9L326.8,329.6L327.3,329.2L327.8,328.8L328.3,328.4L328.8,328.0L329.2,327.5L329.7,327.1L330.2,326.7L330.7,326.3L331.1,325.9L331.6,325.4L332.1,325.0L332.5,324.6L333.0,324.1L333.4,323.7" fill="none" stroke="#4242d4" stroke-width="0.85" stroke-linecap="round"/>
</g>
<text x="281.3" y="347.7" font-size="4.1" fill="#707070" text-anchor="middle">100 m</text>
<text x="281.3" y="311.27" font-size="4.1" fill="#707070" text-anchor="middle">200 m</text>
<text x="281.3" y="293.06" font-size="4.1" fill="#707070" text-anchor="middle">400 m</text>
<text x="281.3" y="283.96" font-size="4.1" fill="#707070" text-anchor="middle">800 m</text>
<path d="M328.91,207.72L306.96,225.51L319.09,222.09Z" fill="#828282"/>
<path d="M328.91,207.72L319.09,222.09L318.77,234.1Z" fill="#5e5e5e"/>
<text x="325.25" y="217.18" font-size="6.8" font-weight="bold" fill="#111" text-anchor="middle" dominant-baseline="central" transform="rotate(-47 325.25 217.18)">North</text>
<path d="M346.83,320.86L329.04,298.91L332.46,311.04Z" fill="#828282"/>
<path d="M346.83,320.86L332.46,311.04L320.45,310.72Z" fill="#5e5e5e"/>
<text x="337.37" y="317.2" font-size="6.8" font-weight="bold" fill="#111" text-anchor="middle" dominant-baseline="central" transform="rotate(36 337.37 317.2)">East</text>
<rect x="208.3" y="200.6" width="146" height="145.7" fill="none" stroke="#a8a8a8" stroke-width="1.1"/>
<text x="210.62" y="354.5" font-size="5" fill="#1c1c1c" text-anchor="middle">−0.06</text>
<text x="204.9" y="344.65" font-size="5" fill="#1c1c1c" text-anchor="end">−0.06</text>
<text x="234.18" y="354.5" font-size="5" fill="#1c1c1c" text-anchor="middle">−0.04</text>
<text x="204.9" y="321.45" font-size="5" fill="#1c1c1c" text-anchor="end">−0.04</text>
<text x="257.74" y="354.5" font-size="5" fill="#1c1c1c" text-anchor="middle">−0.02</text>
<text x="204.9" y="298.25" font-size="5" fill="#1c1c1c" text-anchor="end">−0.02</text>
<text x="281.3" y="354.5" font-size="5" fill="#1c1c1c" text-anchor="middle">0</text>
<text x="204.9" y="275.05" font-size="5" fill="#1c1c1c" text-anchor="end">0</text>
<text x="304.86" y="354.5" font-size="5" fill="#1c1c1c" text-anchor="middle">0.02</text>
<text x="204.9" y="251.85" font-size="5" fill="#1c1c1c" text-anchor="end">0.02</text>
<text x="328.42" y="354.5" font-size="5" fill="#1c1c1c" text-anchor="middle">0.04</text>
<text x="204.9" y="228.65" font-size="5" fill="#1c1c1c" text-anchor="end">0.04</text>
<text x="351.98" y="354.5" font-size="5" fill="#1c1c1c" text-anchor="middle">0.06</text>
<text x="204.9" y="205.45" font-size="5" fill="#1c1c1c" text-anchor="end">0.06</text>
<path d="M210.62,346.3v-1.3M210.62,200.6v1.3M208.3,342.85h1.3M354.3,342.85h-1.3M234.18,346.3v-1.3M234.18,200.6v1.3M208.3,319.65h1.3M354.3,319.65h-1.3M257.74,346.3v-1.3M257.74,200.6v1.3M208.3,296.45h1.3M354.3,296.45h-1.3M281.3,346.3v-1.3M281.3,200.6v1.3M208.3,273.25h1.3M354.3,273.25h-1.3M304.86,346.3v-1.3M304.86,200.6v1.3M208.3,250.05h1.3M354.3,250.05h-1.3M328.42,346.3v-1.3M328.42,200.6v1.3M208.3,226.85h1.3M354.3,226.85h-1.3M351.98,346.3v-1.3M351.98,200.6v1.3M208.3,203.65h1.3M354.3,203.65h-1.3" stroke="#a8a8a8" stroke-width="0.6" fill="none"/>
<text transform="translate(281.3 362.7) scale(1.0 1.15)" font-size="6.2" fill="#1c1c1c" text-anchor="middle" stroke="#1c1c1c" stroke-width="0.18">Range Wavenumber (rad/m)</text>
<text transform="translate(191 273.25) rotate(-90) scale(1.0 1.15)" font-size="6.2" fill="#1c1c1c" text-anchor="middle" stroke="#1c1c1c" stroke-width="0.18">Azimuth Wavenumber (rad/m)</text>
<text transform="translate(281.3 198.1) scale(1.0 1.15)" font-size="6.15" fill="#1c1c1c" text-anchor="middle" stroke="#1c1c1c" stroke-width="0.18">Simulated_SAR_Spectrum(MPI-NTNH)(Max:72.76)</text>
<text transform="translate(278.4 377.7) scale(1.07 1.0)" font-size="13.5" fill="#111" text-anchor="middle" font-family="Liberation Serif, serif" stroke="#111" stroke-width="0.12">(d)</text>
<clipPath id="clipe"><rect x="398.6" y="200.4" width="146" height="145.7"/></clipPath>
<g clip-path="url(#clipe)">
<g fill="none" stroke-width="0.8" stroke-linejoin="round"><path d="M477.4,200.7 469.7,200.6 461.4,201.2 452.2,203.1 444.9,205.5 436.5,209.4 428.9,214.2 422.9,219.5 420.7,222.3 420.2,223.8 420.1,232.4 421,241.9 421.6,245.3 423.5,252.1 425,255.7 426.9,259.1 434,267.8 434.9,269.7 432.7,274 430.4,280.7 426.1,288.4 421.7,303.2 420.2,312.8 420.1,319 420.6,323.3 423.5,327.1 427.7,330.9 433.2,334.8 439.2,338.1 444.9,340.6 452.2,343 458.5,344.4 465.8,345.4 474,345.5 481.8,344.9 491,343 498.3,340.6 506.1,337 513.6,332.4 519.8,327.1 521.8,324.7 522.8,322.8 522.9,311.3 521,299.4 517.3,288.3 515.3,285.1 512.5,282.6 511.5,281.2 509.9,276.4 509.6,274.5 509.9,273.1 511.8,268.7 516.8,259.2 520.9,247.2 521.9,241.9 522.6,234.8 522.7,222.8 519.7,219 515.4,215.2 510,211.3 503.7,207.8 497.8,205.3 491,203.1 484.7,201.7ZM466,250.6 471.8,253 480.8,257.7 495.9,268 503.9,273.1 504.3,274 504.1,275.4 503.1,276.9 493.6,285 481.9,293.1 477.4,295.4 468.4,291.7 461.5,287.9 450.2,280 439.1,273.1 437.9,270.7 438,269.2 439.4,267.8 457.1,255.3 462.5,252Z" stroke="#6a6ae0"/><path d="M440.5,276.9 439,276.7 437.6,277 436,278.8 433.7,285.2 425.6,302.2 424,307.1 423.3,310.9 423.1,315.6 424.1,322.8 424,326.2 425.1,327.6 428.1,330.5 434.1,334.8 439,337.6 443.9,339.8 449.7,341.9 455.6,343.5 461.4,344.5 466.7,345.1 473.1,345.2 478.9,344.9 484.7,344 491,342.6 496.4,341 501.7,338.8 507.1,336 512.4,332.6 516.2,329.5 519.4,326.2 519.7,325.7 519.9,312.8 519.4,308 518,301.3 514.7,293.6 513.3,291.2 511.9,289.8 508,287.1 504.6,284.2 503.7,283.8 502.2,283.7 499.3,284.7 482.3,295.5 477.9,297.6 465.3,292.1 460.8,289.3 448.8,280.8 443.9,278.2ZM478.9,201.2 472.1,200.9 464.8,201.2 457.5,202.2 451.2,203.7 444.9,205.8 439.2,208.5 432.5,212.3 427.9,215.6 424.4,219 423.1,220.9 423.1,232.9 424.6,242.9 425.4,245.8 428.3,252 430.3,255.1 433.2,257.3 439.5,260.9 442,260.9 445.8,259.5 460.4,250.6 465.3,248.4 470.8,250.6 480,255.3 493.5,264.7 498.3,267.6 502.7,269.5 504.2,269.7 505.6,269.5 507,268.3 508,266.4 509.5,259.7 510.5,257.3 516.1,248.6 517.8,244.3 519.3,235.7 519,227.1 519.3,219.9 516.6,217.1 512,213.2 507.1,210.1 501.7,207.3 496.4,205.2 490.6,203.3 485.2,202.1Z" stroke="#7676e6"/><path d="M442.4,279.2 440,279.2 439.1,279.7 438.4,280.7 437.8,282.6 437.5,287.9 437,290.3 430.1,302.2 427.6,308 426.9,310.4 426.7,314.7 428.1,329.5 433.2,333.7 437.3,336.2 442.4,338.8 447.8,340.9 453.1,342.5 463.8,344.5 475.5,344.8 481.3,344.2 487.1,343.2 492.5,341.9 497.8,340.1 502.3,338.1 507.1,335.5 511.9,332.4 515.4,329.5 515.9,325.2 515.7,319.9 516,313.7 515.7,308.5 514.7,304.6 512.8,300.3 510,296.1 501.7,289.4 499.8,288.6 497.8,289 489.6,292.9 481.3,297.9 477.9,299.1 464.8,293.2 449.7,282.5 445.8,280.4ZM475,201.3 468.7,201.3 461.9,201.9 455.1,203.1 448.8,204.8 443,207 437.4,209.9 431.8,213.3 427.6,216.6 426.5,218 427.1,222.8 427.3,236.7 427.9,239.6 430.1,245.3 432.5,250.1 434.2,252 441.5,255.8 443.9,256.5 446.3,256.2 449.7,254.8 460.6,248.6 463.8,247.2 465.3,247 471.6,249.6 480.3,254.3 493,263.3 496.9,265.6 500.8,267.2 502.2,267.5 503.7,267.2 505.1,265.9 505.8,264 505.9,256.8 506.5,254.4 513,244.8 514.1,242.4 514.9,239.6 515.3,236.2 514.7,230 515.1,222.3 514.4,216.1 511.8,213.7 507.5,210.8 502.2,208 497.4,205.9 486.7,202.8Z" stroke="#8890ee"/><path d="M444.9,281.1 442,280.9 441,281.4 440.4,282.1 440,284.1 440.3,291.2 439.9,294.6 438.9,296.5 435.9,299.8 434.3,302.2 432.8,305.6 431.5,309.9 431.3,312.3 431.8,316.6 431.8,321.4 433.5,330.5 433.7,333.3 437.3,335.7 442.4,338.4 452.2,341.9 462.4,344 473.1,344.5 482.8,343.7 493.5,341.2 502.5,337.6 506.8,335.3 510.1,332.9 510.9,330 510.8,325.7 511.7,315.2 511.6,311.8 511.1,308.5 510.1,305.6 509,303.7 505.6,300.5 502.9,297 501.4,295.5 499.3,294.2 497.4,293.4 493.5,293.5 490.1,294.7 482.4,298.9 478.4,300.4 471.1,297.5 464.8,294.5 450.2,283.7ZM476.9,201.7 471.1,201.5 464.3,202 457.5,203 451.7,204.3 446.8,205.8 442.4,207.7 431.2,214.2 430.6,215.2 430.7,216.6 432.6,224.7 433.2,232.9 432.9,238.6 433.7,241.8 436.1,246.2 438.4,248.6 443.4,251.3 447.3,252.5 449.2,252.5 451.7,251.9 460.9,247 464.3,245.8 465.3,245.9 472.1,248.7 480.3,253.2 492,261.8 495.9,264.2 499.8,265.7 502.2,265.6 503.4,264.4 504,262 503,253.9 503.2,251.5 506.4,245.3 510.5,239.6 511.5,236.7 511.5,234.8 510.7,230.5 509.5,219.5 509.8,213.2 508.2,211.8 503.7,209.1 495.9,205.8 486.7,203.1Z" stroke="#80b4f4"/><path d="M446.3,282.6 443.4,282.3 442.4,282.9 441.9,284.1 442,288.4 443.9,296.5 443.9,298.9 443.2,300.3 439.5,303.7 438,306.1 437.1,316.1 437.1,319 437.8,321.4 443.6,331.4 443.8,333.8 442.8,337.6 442.9,338.1 450.3,341 458.5,343.1 465.8,344 475.5,344.1 482.3,343.4 491,341.6 498.3,339.1 503.2,336.7 503.5,326.2 504.3,323.8 506.7,320.9 507.4,319.5 507.7,317.6 507.6,311.8 507,309.9 506.1,308.3 501.8,304.2 498.3,299.4 494.4,297.1 491.5,296.7 488.6,297.5 479.4,301.3 476.9,301 470.6,298.6 464.8,295.7 451.2,285.2ZM478.4,202.2 473.1,201.9 466.7,202.1 458.5,203.1 448.8,205.5 443.9,207.4 442.2,208.5 442,212.3 440.8,216.6 440.1,221.4 438.3,227.6 438.5,236.7 439.2,240 440.8,243.4 442.2,245.3 444.8,247.2 448.8,249.3 450.7,249.7 452.6,249.5 460.4,245.8 463.6,244.8 464.8,244.8 472.6,247.9 480.3,252.1 491.5,260.6 494.9,262.8 498.3,264.2 500.8,264.3 502,263 502.4,260.1 501.7,256.8 499.4,250.6 499.3,248.2 500,246.3 501.4,243.9 506.7,238.1 507.4,236.7 507.7,234.8 507.2,231.4 506.1,228.6 504.6,226.7 501.7,223.9 500.9,222.3 501,219.9 502.6,213.7 502.4,211.8 501.7,209.6 501.3,208.5 500.4,208 492.7,205.1 485.1,203.2Z" stroke="#70d8f4"/><path d="M446.3,283.6 444.8,283.6 443.6,284.5 443.3,286.4 443.6,289.3 445.5,294.1 447,296.5 449.9,299.8 450.6,301.8 449.4,303.7 445.1,306.5 443.9,308.1 443.1,315.6 443.2,317.1 443.9,318.6 444.9,319.5 448.3,320.8 449.8,321.9 451,323.8 452.3,327.6 453.1,328.6 458.2,330.5 461.4,333.6 462.9,334.6 464.8,334.8 469.7,333.9 473.1,334.4 475.5,335.4 478.4,338.7 479.9,339.3 489.3,336.7 490.2,335.7 492.8,331.4 495,325.7 497.8,321.2 500.4,318 501.1,316.6 501.4,312.3 500.9,310.4 499.6,308.5 494.9,303.8 491.5,301.1 489.6,300.2 486.7,300.3 478.9,302.5 472.1,300.6 468.7,299.3 463.3,296.3 451.2,285.9 448.8,284.5ZM469.2,207.4 466.3,207.1 463.3,208.1 461.9,209.7 459.9,213.3 458,214.9 455.6,215.5 450.2,215.9 448.8,216.4 447.3,217.5 445.8,220.3 443.2,228.1 442.6,235.7 442.8,237.6 443.6,239.6 445.1,241.5 448.8,244.5 452.2,246.6 454.6,246.5 459.9,244.6 463.8,243.7 472.1,246.5 476,248.4 481.8,251.9 490,258.7 494,261.5 497.4,263 498.8,263.2 499.8,262.9 500.6,262 500.9,260.6 500.4,257.3 498.8,253.9 495.1,248.6 494.4,246.3 494.5,245.3 495.4,243.9 500.9,238.6 502.7,236.2 503.2,233.3 502.3,230.5 500.8,228.6 497.4,226 496,224.2 495.3,222.3 494.7,217.1 493.4,215.2 491,214.3 484.2,214.5 479.9,213.6 474.8,211.3Z" stroke="#84e8d8"/><path d="M447.8,284.9 445.8,284.9 444.9,285.9 444.7,287.9 445.4,290.8 447.7,294.6 453.2,299.8 454.3,301.3 454.5,302.2 453.6,304.2 449.3,308 448.1,309.9 447.8,313.2 449,315.6 453.1,319.1 457.5,324 460.9,326.1 464.3,327.5 478.4,330.7 480.3,330.4 484.5,329 486.7,327.8 490.6,321.9 495.7,317.1 497.1,315.2 497.4,313.7 497.2,311.8 496.3,309.9 494.9,308.1 490.1,304 487.6,302.6 484.7,302.5 479.4,303.6 470.6,302.2 466.3,300.6 462.9,298.5 458.5,293.1 453.8,288.8 450.7,286.4ZM473.1,216 470.1,215.8 466.7,216.4 460.4,218.9 454.6,220.3 451.2,222.3 448.9,225.2 446.8,230.5 445.9,234.8 446.6,237.6 447.7,239.1 449.7,240.8 452.2,242.5 454.1,243.4 456.1,243.6 463.8,242.5 475.5,246.4 482.3,250.7 488.2,256.3 493,260.1 496.4,261.8 497.8,261.9 498.7,261.6 499.4,260.6 499.5,259.2 498.4,255.8 496.4,252.9 491.2,247.7 490,245.3 490.2,243.9 491,242.4 495.3,238.1 496.9,235.7 497.6,233.3 497,230.9 492.2,225.2 490.2,220.9 489.1,219.8 486.2,218.8 477.9,217.4Z" stroke="#aeeeac"/><path d="M465.3,303.7 461.9,303.9 455.1,306.5 452,308.9 451.1,310.4 450.8,311.8 451.1,313.2 452,314.7 458,320.7 460.4,322.4 464.3,324.2 467.2,325 469.7,325.1 477.9,324.2 479.9,323.7 485.2,320.9 492.1,315.2 493.2,313.7 493.2,311.8 492,309.4 488.5,306.1 486.2,304.6 483.7,304.2 479.9,304.6 476,304.3 470.6,304.6ZM448.8,286.3 446.8,286.3 446.1,287.9 446.6,290.3 448.3,293.1 450.7,295.5 454.1,297.8 456.5,298.7 458,298.5 458.6,297.5 458.5,296 457,293.1 452,288.4ZM473.5,220.8 472.1,220.6 470.6,221 466.3,224.2 463.8,225.1 460.9,225.3 456.1,224.6 453.6,225.4 451.7,227.6 450.2,231.4 449.7,234.3 450.3,236.2 452.6,238.6 456.5,240.4 463.3,241.2 469.2,243 476,243.5 478.5,244.3 483.3,248.3 487.1,253.9 491,257.7 494.4,260.1 495.9,260.6 497.4,260.4 497.9,259.7 498,258.2 496.4,254.9 493.5,252 487.5,247.7 486.7,246.7 486.2,245.3 486.4,243.9 487.2,242.4 491.8,237.6 493.3,235.2 493.7,232.4 492.8,230 490.6,227.6 486.7,225 484.7,224.5 481.3,225.2 479.9,225.1 478.4,224.4 475.4,221.9Z" stroke="#e2f090"/><path d="M483.3,306 476.9,305.8 471.6,306.5 465.3,306.4 462.9,306.7 457.5,308.3 455.6,309.3 454.2,310.9 454.1,312.8 456.1,315.6 459.5,319 461.4,320.4 463.8,321.5 466.7,322.3 468.7,322.5 470.6,322.2 477.9,320.4 480.8,319.3 484.2,317.2 487.5,314.2 488.6,312.3 488.2,309.9 486.2,307.4ZM449.7,288.2 448.8,288 448.1,288.8 448.4,290.3 449.2,291.7 450.7,293.3 452.6,294.6 454.1,295.1 455.1,294.9 455.2,293.6 454.3,292.2 451.7,289.5ZM491,252.4 489.6,252.1 489,252.5 489.1,253.9 490,255.3 493.5,258.4 494.9,259 495.9,258.8 496.2,257.7 495.4,255.8 493.5,253.8ZM472.6,226.1 470.6,226.2 466.3,227.9 456.5,230.7 455.6,231.4 455,232.4 455.1,234.3 456.8,236.2 460,238.1 466.3,240.5 469.2,241 474.5,240.6 481.3,240.8 483.7,240.4 485.7,239.6 487.6,238.3 490.2,235.2 490.7,233.3 490.6,231.9 489.6,230.5 488.6,229.7 486.7,229.1 481.8,229.2 479.4,228.9Z" stroke="#f4da8a"/><path d="M481.3,307.9 476.5,307.5 464.3,308.9 459.2,310.9 458.3,311.8 458.1,313.2 460.2,316.6 462.9,318.8 466.7,320.2 470.1,320.1 477.9,317.6 481.3,315.6 483.8,313.7 484.9,311.8 484.8,310.4 483.7,308.9ZM473.5,229.4 470.6,229.5 464.6,231.9 463.1,233.3 463.2,234.8 464.8,236.5 467.2,237.6 476.5,238.3 480.8,238 483.7,237.3 485.7,236.2 486.8,234.8 486.8,233.3 485.7,232.3 478.4,230.9Z" stroke="#f4b08a"/><path d="M478.4,309.8 476.5,309.4 474,309.5 465.6,311.3 463.1,312.8 462.5,313.7 462.7,315.2 464.3,317 466.7,318 469.7,318 473.1,317.1 477.4,315.2 480.1,312.8 480.4,311.8 480.2,310.9ZM475.5,233.3 474,233.5 473.7,233.8 473.8,234.3 475.5,235.1 477.3,234.8 477.6,234.3 477.1,233.8Z" stroke="#ec7676"/></g>
<ellipse cx="471.6" cy="273.05" rx="73.98" ry="72.85" fill="none" stroke="#7a7a7a" stroke-width="0.75"/>
<ellipse cx="471.6" cy="273.05" rx="36.99" ry="36.42" fill="none" stroke="#7a7a7a" stroke-width="0.75"/>
<ellipse cx="471.6" cy="273.05" rx="18.49" ry="18.21" fill="none" stroke="#7a7a7a" stroke-width="0.75"/>
<ellipse cx="471.6" cy="273.05" rx="9.25" ry="9.11" fill="none" stroke="#7a7a7a" stroke-width="0.75"/>
<line x1="428.22" y1="332.76" x2="508.63" y2="222.08" stroke="#a0a0a0" stroke-width="0.6"/>
<line x1="411.89" y1="229.67" x2="522.57" y2="310.08" stroke="#a0a0a0" stroke-width="0.6"/>
<path d="M523.7,222.6L523.3,222.2L522.8,221.7L522.4,221.3L521.9,220.9L521.4,220.4L521.0,220.0L520.5,219.6L520.0,219.2L519.5,218.8L519.1,218.3L518.6,217.9L518.1,217.5L517.6,217.1L517.1,216.7L516.6,216.4L516.1,216.0L515.6,215.6L515.1,215.2L514.6,214.8L514.0,214.5L513.5,214.1L513.0,213.8L512.5,213.4L511.9,213.1L511.4,212.7L510.9,212.4L510.3,212.0L509.8,211.7L509.2,211.4L508.7,211.1L508.1,210.7L507.6,210.4L507.0,210.1L506.5,209.8L505.9,209.5L505.3,209.2L504.8,208.9L504.2,208.7L503.6,208.4L503.1,208.1L502.5,207.8L501.9,207.6L501.3,207.3L500.7,207.1L500.2,206.8L499.6,206.6L499.0,206.3L498.4,206.1L497.8,205.9L497.2,205.7L496.6,205.4L496.0,205.2L495.4,205.0L494.8,204.8L494.2,204.6L493.6,204.4L493.0,204.2L492.4,204.1L491.7,203.9L491.1,203.7L490.5,203.6L489.9,203.4L489.3,203.2L488.7,203.1L488.0,202.9L487.4,202.8L486.8,202.7L486.2,202.5L485.5,202.4L484.9,202.3L484.3,202.2L483.7,202.1L483.0,202.0L482.4,201.9L481.8,201.8L481.1,201.7L480.5,201.6L479.9,201.6L479.2,201.5L478.6,201.4L478.0,201.4L477.3,201.3L476.7,201.3L476.1,201.2L475.4,201.2L474.8,201.2L474.2,201.1L473.5,201.1L472.9,201.1L472.2,201.1L471.6,201.1L471.0,201.1L470.3,201.1L469.7,201.1L469.0,201.1L468.4,201.2L467.8,201.2L467.1,201.2L466.5,201.3L465.9,201.3L465.2,201.4L464.6,201.4L464.0,201.5L463.3,201.6L462.7,201.6L462.1,201.7L461.4,201.8L460.8,201.9L460.2,202.0L459.5,202.1L458.9,202.2L458.3,202.3L457.7,202.4L457.0,202.5L456.4,202.7L455.8,202.8L455.2,202.9L454.5,203.1L453.9,203.2L453.3,203.4L452.7,203.6L452.1,203.7L451.5,203.9L450.8,204.1L450.2,204.2L449.6,204.4L449.0,204.6L448.4,204.8L447.8,205.0L447.2,205.2L446.6,205.4L446.0,205.7L445.4,205.9L444.8,206.1L444.2,206.3L443.6,206.6L443.0,206.8L442.5,207.1L441.9,207.3L441.3,207.6L440.7,207.8L440.1,208.1L439.6,208.4L439.0,208.7L438.4,208.9L437.9,209.2L437.3,209.5L436.7,209.8L436.2,210.1L435.6,210.4L435.1,210.7L434.5,211.1L434.0,211.4L433.4,211.7L432.9,212.0L432.3,212.4L431.8,212.7L431.3,213.1L430.7,213.4L430.2,213.8L429.7,214.1L429.2,214.5L428.6,214.8L428.1,215.2L427.6,215.6L427.1,216.0L426.6,216.4L426.1,216.7L425.6,217.1L425.1,217.5L424.6,217.9L424.1,218.3L423.7,218.8L423.2,219.2L422.7,219.6L422.2,220.0L421.8,220.4L421.3,220.9L420.8,221.3L420.4,221.7L419.9,222.2L419.5,222.6L419.0,223.1M419.5,323.5L419.9,323.9L420.4,324.4L420.8,324.8L421.3,325.2L421.8,325.7L422.2,326.1L422.7,326.5L423.2,326.9L423.7,327.3L424.1,327.8L424.6,328.2L425.1,328.6L425.6,329.0L426.1,329.4L426.6,329.7L427.1,330.1L427.6,330.5L428.1,330.9L428.6,331.3L429.2,331.6L429.7,332.0L430.2,332.3L430.7,332.7L431.3,333.0L431.8,333.4L432.3,333.7L432.9,334.1L433.4,334.4L434.0,334.7L434.5,335.0L435.1,335.4L435.6,335.7L436.2,336.0L436.7,336.3L437.3,336.6L437.9,336.9L438.4,337.2L439.0,337.4L439.6,337.7L440.1,338.0L440.7,338.3L441.3,338.5L441.9,338.8L442.5,339.0L443.0,339.3L443.6,339.5L444.2,339.8L444.8,340.0L445.4,340.2L446.0,340.4L446.6,340.7L447.2,340.9L447.8,341.1L448.4,341.3L449.0,341.5L449.6,341.7L450.2,341.9L450.8,342.0L451.5,342.2L452.1,342.4L452.7,342.5L453.3,342.7L453.9,342.9L454.5,343.0L455.2,343.2L455.8,343.3L456.4,343.4L457.0,343.6L457.7,343.7L458.3,343.8L458.9,343.9L459.5,344.0L460.2,344.1L460.8,344.2L461.4,344.3L462.1,344.4L462.7,344.5L463.3,344.5L464.0,344.6L464.6,344.7L465.2,344.7L465.9,344.8L466.5,344.8L467.1,344.9L467.8,344.9L468.4,344.9L469.0,345.0L469.7,345.0L470.3,345.0L471.0,345.0L471.6,345.0L472.2,345.0L472.9,345.0L473.5,345.0L474.2,345.0L474.8,344.9L475.4,344.9L476.1,344.9L476.7,344.8L477.3,344.8L478.0,344.7L478.6,344.7L479.2,344.6L479.9,344.5L480.5,344.5L481.1,344.4L481.8,344.3L482.4,344.2L483.0,344.1L483.7,344.0L484.3,343.9L484.9,343.8L485.5,343.7L486.2,343.6L486.8,343.4L487.4,343.3L488.0,343.2L488.7,343.0L489.3,342.9L489.9,342.7L490.5,342.5L491.1,342.4L491.7,342.2L492.4,342.0L493.0,341.9L493.6,341.7L494.2,341.5L494.8,341.3L495.4,341.1L496.0,340.9L496.6,340.7L497.2,340.4L497.8,340.2L498.4,340.0L499.0,339.8L499.6,339.5L500.2,339.3L500.7,339.0L501.3,338.8L501.9,338.5L502.5,338.3L503.1,338.0L503.6,337.7L504.2,337.4L504.8,337.2L505.3,336.9L505.9,336.6L506.5,336.3L507.0,336.0L507.6,335.7L508.1,335.4L508.7,335.0L509.2,334.7L509.8,334.4L510.3,334.1L510.9,333.7L511.4,333.4L511.9,333.0L512.5,332.7L513.0,332.3L513.5,332.0L514.0,331.6L514.6,331.3L515.1,330.9L515.6,330.5L516.1,330.1L516.6,329.7L517.1,329.4L517.6,329.0L518.1,328.6L518.6,328.2L519.1,327.8L519.5,327.3L520.0,326.9L520.5,326.5L521.0,326.1L521.4,325.7L521.9,325.2L522.4,324.8L522.8,324.4L523.3,323.9L523.7,323.5" fill="none" stroke="#4242d4" stroke-width="0.85" stroke-linecap="round"/>
</g>
<text x="471.6" y="347.5" font-size="4.1" fill="#707070" text-anchor="middle">100 m</text>
<text x="471.6" y="311.07" font-size="4.1" fill="#707070" text-anchor="middle">200 m</text>
<text x="471.6" y="292.86" font-size="4.1" fill="#707070" text-anchor="middle">400 m</text>
<text x="471.6" y="283.76" font-size="4.1" fill="#707070" text-anchor="middle">800 m</text>
<path d="M519.21,207.52L497.26,225.31L509.39,221.89Z" fill="#828282"/>
<path d="M519.21,207.52L509.39,221.89L509.07,233.9Z" fill="#5e5e5e"/>
<text x="515.55" y="216.98" font-size="6.8" font-weight="bold" fill="#111" text-anchor="middle" dominant-baseline="central" transform="rotate(-47 515.55 216.98)">North</text>
<path d="M537.13,320.66L519.34,298.71L522.76,310.84Z" fill="#828282"/>
<path d="M537.13,320.66L522.76,310.84L510.75,310.52Z" fill="#5e5e5e"/>
<text x="527.67" y="317" font-size="6.8" font-weight="bold" fill="#111" text-anchor="middle" dominant-baseline="central" transform="rotate(36 527.67 317)">East</text>
<rect x="398.6" y="200.4" width="146" height="145.7" fill="none" stroke="#a0a0a0" stroke-width="1.0"/>
<text x="400.92" y="354.3" font-size="5" fill="#1c1c1c" text-anchor="middle">−0.06</text>
<text x="395.2" y="344.45" font-size="5" fill="#1c1c1c" text-anchor="end">−0.06</text>
<text x="424.48" y="354.3" font-size="5" fill="#1c1c1c" text-anchor="middle">−0.04</text>
<text x="395.2" y="321.25" font-size="5" fill="#1c1c1c" text-anchor="end">−0.04</text>
<text x="448.04" y="354.3" font-size="5" fill="#1c1c1c" text-anchor="middle">−0.02</text>
<text x="395.2" y="298.05" font-size="5" fill="#1c1c1c" text-anchor="end">−0.02</text>
<text x="471.6" y="354.3" font-size="5" fill="#1c1c1c" text-anchor="middle">0</text>
<text x="395.2" y="274.85" font-size="5" fill="#1c1c1c" text-anchor="end">0</text>
<text x="495.16" y="354.3" font-size="5" fill="#1c1c1c" text-anchor="middle">0.02</text>
<text x="395.2" y="251.65" font-size="5" fill="#1c1c1c" text-anchor="end">0.02</text>
<text x="518.72" y="354.3" font-size="5" fill="#1c1c1c" text-anchor="middle">0.04</text>
<text x="395.2" y="228.45" font-size="5" fill="#1c1c1c" text-anchor="end">0.04</text>
<text x="542.28" y="354.3" font-size="5" fill="#1c1c1c" text-anchor="middle">0.06</text>
<text x="395.2" y="205.25" font-size="5" fill="#1c1c1c" text-anchor="end">0.06</text>
<path d="M400.92,346.1v-1.3M400.92,200.4v1.3M398.6,342.65h1.3M544.6,342.65h-1.3M424.48,346.1v-1.3M424.48,200.4v1.3M398.6,319.45h1.3M544.6,319.45h-1.3M448.04,346.1v-1.3M448.04,200.4v1.3M398.6,296.25h1.3M544.6,296.25h-1.3M471.6,346.1v-1.3M471.6,200.4v1.3M398.6,273.05h1.3M544.6,273.05h-1.3M495.16,346.1v-1.3M495.16,200.4v1.3M398.6,249.85h1.3M544.6,249.85h-1.3M518.72,346.1v-1.3M518.72,200.4v1.3M398.6,226.65h1.3M544.6,226.65h-1.3M542.28,346.1v-1.3M542.28,200.4v1.3M398.6,203.45h1.3M544.6,203.45h-1.3" stroke="#a0a0a0" stroke-width="0.6" fill="none"/>
<text transform="translate(471.6 362.5) scale(1.0 1.15)" font-size="6.2" fill="#1c1c1c" text-anchor="middle" stroke="#1c1c1c" stroke-width="0.18">Range Wavenumber (rad/m)</text>
<text transform="translate(381.3 273.05) rotate(-90) scale(1.0 1.15)" font-size="6.2" fill="#1c1c1c" text-anchor="middle" stroke="#1c1c1c" stroke-width="0.18">Azimuth Wavenumber (rad/m)</text>
<text transform="translate(400.6 195.3) scale(1.0 1.15)" font-size="6.15" fill="#1c1c1c" text-anchor="start" stroke="#1c1c1c" stroke-width="0.18">Simulated_SAR_Spectrum(MPI-T<tspan font-size="3.6" dx="1.3" dy="-3.3">f</tspan><tspan font-size="4.3" dx="-1.9" dy="5.4">ice</tspan><tspan font-size="6.15" dx="0.2" dy="-2.1">NH)(Max:71.33)</tspan></text>
<text transform="translate(468.9 377.7) scale(1.07 1.0)" font-size="13.5" fill="#111" text-anchor="middle" font-family="Liberation Serif, serif" stroke="#111" stroke-width="0.12">(e)</text>
</svg>
</body></html>
